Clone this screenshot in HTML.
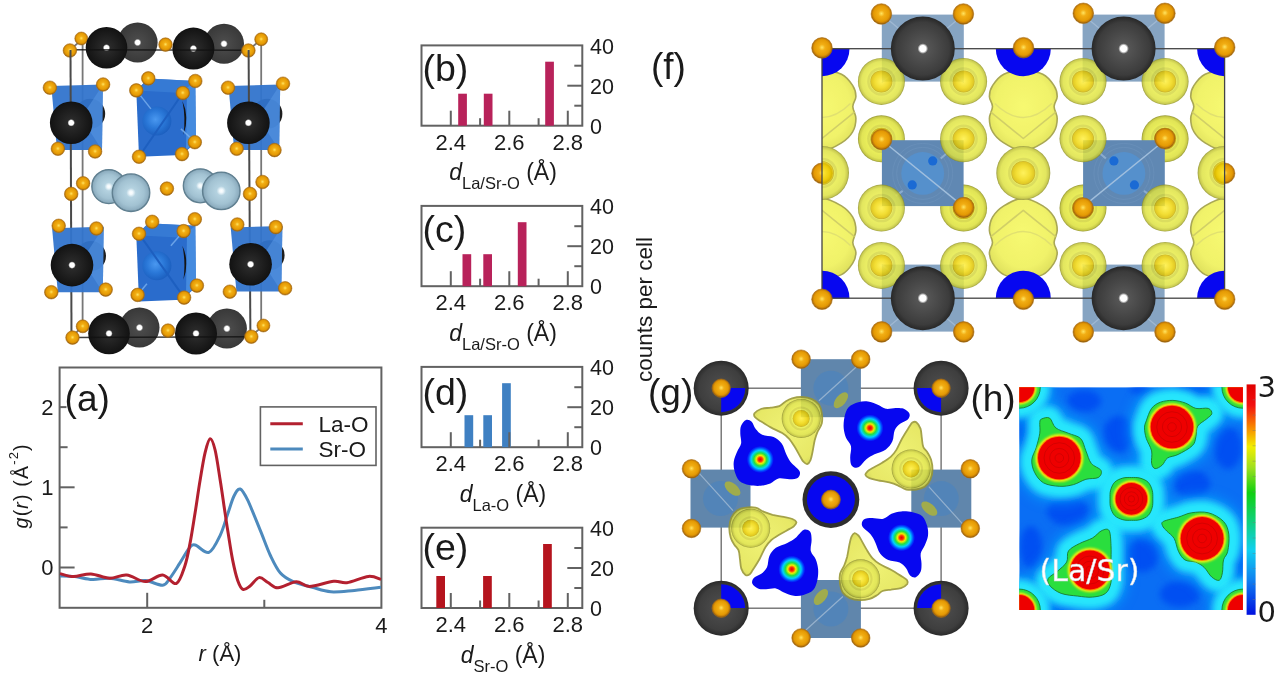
<!DOCTYPE html>
<html><head><meta charset="utf-8"><title>Figure</title>
<style>
html,body{margin:0;padding:0;background:#fff;width:1280px;height:677px;overflow:hidden}
svg{display:block}
text{font-family:"Liberation Sans",Arial,sans-serif;fill:#1a1a1a}
.dv{font-family:"DejaVu Sans","Liberation Sans",sans-serif}
</style></head><body>
<svg width="1280" height="677" viewBox="0 0 1280 677">
<defs>
<radialGradient id="gO" cx="0.5" cy="0.48" r="0.5"><stop offset="0" stop-color="#ffe460"/><stop offset="0.3" stop-color="#f2ae14"/><stop offset="0.75" stop-color="#e49a04"/><stop offset="0.9" stop-color="#c47c08"/><stop offset="1" stop-color="#8a5c10"/></radialGradient>
<radialGradient id="gK" cx="0.5" cy="0.5" r="0.55"><stop offset="0" stop-color="#fff"/><stop offset="0.1" stop-color="#fff"/><stop offset="0.16" stop-color="#2a2a2a"/><stop offset="0.85" stop-color="#141414"/><stop offset="1" stop-color="#0a0a0a"/></radialGradient>
<radialGradient id="gG" cx="0.5" cy="0.5" r="0.55"><stop offset="0" stop-color="#fff"/><stop offset="0.1" stop-color="#fff"/><stop offset="0.17" stop-color="#4a4a4a"/><stop offset="0.85" stop-color="#3a3a3a"/><stop offset="1" stop-color="#2c2c2c"/></radialGradient>
<radialGradient id="gS" cx="0.5" cy="0.5" r="0.5"><stop offset="0" stop-color="#ffffff"/><stop offset="0.1" stop-color="#f0f8fc"/><stop offset="0.25" stop-color="#b4d2e0"/><stop offset="0.7" stop-color="#a2c2d2"/><stop offset="0.92" stop-color="#8eaec0"/><stop offset="1" stop-color="#6a8898"/></radialGradient>
<radialGradient id="gB" cx="0.45" cy="0.45" r="0.6"><stop offset="0" stop-color="#4a98f0"/><stop offset="0.5" stop-color="#2a78d8"/><stop offset="1" stop-color="#1a5cbc"/></radialGradient>
<radialGradient id="gF" cx="0.5" cy="0.5" r="0.55"><stop offset="0" stop-color="#fff"/><stop offset="0.09" stop-color="#fff"/><stop offset="0.15" stop-color="#555"/><stop offset="0.75" stop-color="#3c3c3c"/><stop offset="0.95" stop-color="#222"/><stop offset="1" stop-color="#1a1a1a"/></radialGradient>
<radialGradient id="gY" cx="0.5" cy="0.5" r="0.5"><stop offset="0" stop-color="#fff040"/><stop offset="0.6" stop-color="#f0d810"/><stop offset="0.9" stop-color="#dcc000"/><stop offset="1" stop-color="#b8a010"/></radialGradient>
<radialGradient id="gYb" cx="0.5" cy="0.5" r="0.5"><stop offset="0" stop-color="#eef24e"/><stop offset="0.6" stop-color="#e8ec4a"/><stop offset="0.84" stop-color="#dee244"/><stop offset="0.94" stop-color="#c2c434"/><stop offset="1" stop-color="#8a8c22"/></radialGradient>
<radialGradient id="gR" cx="0.5" cy="0.5" r="0.5"><stop offset="0" stop-color="#e00000"/><stop offset="0.15" stop-color="#ff3000"/><stop offset="0.3" stop-color="#f0f000"/><stop offset="0.48" stop-color="#20e040"/><stop offset="0.68" stop-color="#00d0ff"/><stop offset="0.88" stop-color="#0040ff"/><stop offset="1" stop-color="#0707f0"/></radialGradient>
<linearGradient id="gCB" x1="0" y1="0" x2="0" y2="1"><stop offset="0" stop-color="#e00000"/><stop offset="0.09" stop-color="#f21010"/><stop offset="0.18" stop-color="#f88000"/><stop offset="0.27" stop-color="#f2ee00"/><stop offset="0.36" stop-color="#a0e020"/><stop offset="0.47" stop-color="#10d010"/><stop offset="0.6" stop-color="#10d080"/><stop offset="0.72" stop-color="#10d0f0"/><stop offset="0.85" stop-color="#1080f0"/><stop offset="1" stop-color="#0010e0"/></linearGradient>
<filter id="blur3" filterUnits="userSpaceOnUse" x="0" y="0" width="1280" height="677"><feGaussianBlur stdDeviation="3"/></filter>
<filter id="blur5" filterUnits="userSpaceOnUse" x="0" y="0" width="1280" height="677"><feGaussianBlur stdDeviation="5"/></filter>
<filter id="blur1" x="-20%" y="-20%" width="140%" height="140%"><feGaussianBlur stdDeviation="1"/></filter>
<filter id="blur7" filterUnits="userSpaceOnUse" x="0" y="0" width="1280" height="677"><feGaussianBlur stdDeviation="7"/></filter>
<clipPath id="cpF"><rect x="822" y="48.7" width="402.5" height="249.8"/></clipPath>
<clipPath id="cpG"><rect x="721.2" y="388.1" width="219.9" height="219.9"/></clipPath>
<clipPath id="cpH"><rect x="1019.3" y="387.2" width="223.6" height="222.9"/></clipPath>
</defs>

<g id="pa">
<rect x="59.6" y="367.5" width="321.8" height="240.3" fill="none" stroke="#626262" stroke-width="2"/>
<line x1="59.6" y1="567.5" x2="74.6" y2="567.5" stroke="#626262" stroke-width="2"/>
<line x1="59.6" y1="527.4" x2="67.6" y2="527.4" stroke="#626262" stroke-width="2"/>
<line x1="59.6" y1="487.3" x2="74.6" y2="487.3" stroke="#626262" stroke-width="2"/>
<line x1="59.6" y1="447.2" x2="67.6" y2="447.2" stroke="#626262" stroke-width="2"/>
<line x1="59.6" y1="407.1" x2="74.6" y2="407.1" stroke="#626262" stroke-width="2"/>
<line x1="147.2" y1="607.8" x2="147.2" y2="592.8" stroke="#626262" stroke-width="2"/>
<line x1="264.3" y1="607.8" x2="264.3" y2="599.8" stroke="#626262" stroke-width="2"/>
<path d="M60,575.9 C62.5,576 69.5,576 74.9,576.6 C80.3,577.2 86.4,579.2 92.2,579.5 C98,579.8 103.3,577.8 109.5,578.2 C115.7,578.6 123.4,581.5 129.4,581.9 C135.4,582.3 139.8,580 145.3,580.5 C150.8,581 158.5,585.6 162.6,585.2 C166.7,584.8 167.1,581.7 170,578 C172.9,574.3 176.8,567.8 180,562.9 C183.2,558 186.5,551.5 189,548.5 C191.5,545.5 191.8,544.4 195.1,545 C198.4,545.6 204.7,554 208.9,552.4 C213.1,550.8 217.1,541.7 220.2,535.3 C223.3,528.9 225.4,520.5 227.7,514 C230,507.4 231.9,500.2 234,496 C236.1,491.8 237.9,488.3 240.2,489 C242.5,489.7 244.3,493.3 247.7,500.2 C251,507.1 256.5,521.2 260.3,530.4 C264.1,539.6 267,548.4 270.4,555.5 C273.8,562.6 276.6,568.7 280.4,573.1 C284.2,577.5 287.9,579.3 293.2,581.7 C298.5,584.1 305.9,585.6 312.2,587.3 C318.5,589 323.9,591.3 330.9,591.8 C337.9,592.3 346,591.1 354.4,590.4 C362.8,589.6 376.6,587.8 381,587.3" fill="none" stroke="#4d8abd" stroke-width="3"/>
<path d="M60,573.6 C62.3,574.1 68.4,576.6 73.6,576.6 C78.8,576.6 84.9,573.6 90.9,573.9 C96.9,574.2 103.5,578 109.5,578.2 C115.5,578.4 120.7,574.4 126.7,575 C132.7,575.6 139.3,581.6 145.3,581.6 C151.3,581.6 157.4,574.7 162.6,575 C167.8,575.3 172.6,585.1 176.3,583.5 C180,581.9 182.7,572.2 185,565.4 C187.3,558.6 188.4,551.7 190.1,542.9 C191.8,534.1 193.4,523.2 195.1,512.8 C196.8,502.3 198.4,490.2 200.1,480.2 C201.8,470.2 203.4,459.5 205.1,452.6 C206.8,445.7 208.4,439.2 210.1,438.8 C211.8,438.4 213.4,443.1 215.1,450 C216.8,456.9 218.7,471 220.2,480.2 C221.7,489.4 222.7,496.9 223.9,505.2 C225.2,513.5 226.2,521.1 227.7,530.3 C229.2,539.5 231,552 232.7,560.4 C234.4,568.8 236,575.7 237.7,580.5 C239.4,585.3 240.9,588.5 243,589.4 C245.1,590.3 247.3,588 250,586 C252.7,584 256.1,578.2 259.1,577.6 C262.1,577 264.9,580.8 268,582.5 C271.1,584.2 273.3,587.9 278,587.8 C282.7,587.7 291,581.9 296.2,581.7 C301.4,581.5 303.1,586.5 309.4,586.4 C315.6,586.3 327.4,581.9 333.7,581.3 C339.9,580.7 341.1,583.5 346.9,582.7 C352.7,581.9 362.7,577 368.4,576.4 C374.1,575.8 378.9,578.9 381,579.4" fill="none" stroke="#b3202f" stroke-width="3"/>
<rect x="260.4" y="406.9" width="115.6" height="58.5" fill="#fff" stroke="#626262" stroke-width="1.6"/>
<line x1="270.3" y1="423.7" x2="302.8" y2="423.7" stroke="#b3202f" stroke-width="3"/>
<line x1="270.3" y1="448.9" x2="302.8" y2="448.9" stroke="#4d8abd" stroke-width="3"/>
<text x="318.5" y="431.7" font-size="22.5">La-O</text>
<text x="318.5" y="456.8" font-size="22.5">Sr-O</text>
<rect x="66.5" y="380" width="44" height="40" fill="#fff"/>
<text x="64.6" y="410.5" font-size="37">(a)</text>
<text x="53.5" y="575.3" font-size="22" text-anchor="end">0</text>
<text x="53.5" y="495.1" font-size="22" text-anchor="end">1</text>
<text x="53.5" y="414.9" font-size="22" text-anchor="end">2</text>
<text x="147.2" y="632.5" font-size="22" text-anchor="middle">2</text>
<text x="381.4" y="632.5" font-size="22" text-anchor="middle">4</text>
<text x="220" y="661" font-size="22" text-anchor="middle"><tspan font-style="italic">r</tspan> (Å)</text>
<text transform="translate(27.8,528.4) rotate(-90)" font-size="19.5" textLength="84" lengthAdjust="spacing"><tspan font-style="italic">g</tspan>(<tspan font-style="italic">r</tspan>) (Å<tspan font-size="13" dy="-10">-2</tspan><tspan dy="10">)</tspan></text>
</g>
<g id="pbars">
<rect x="421.5" y="45.4" width="160.8" height="80.3" fill="none" stroke="#626262" stroke-width="2"/>
<rect x="458.2" y="93.7" width="8.7" height="32" fill="#b8225a"/>
<rect x="483.8" y="93.7" width="8.7" height="32" fill="#b8225a"/>
<rect x="545.2" y="61.7" width="8.7" height="64" fill="#b8225a"/>
<line x1="450.8" y1="125.7" x2="450.8" y2="110.7" stroke="#626262" stroke-width="2"/>
<line x1="480.1" y1="125.7" x2="480.1" y2="118.2" stroke="#626262" stroke-width="2"/>
<line x1="509.3" y1="125.7" x2="509.3" y2="110.7" stroke="#626262" stroke-width="2"/>
<line x1="538.6" y1="125.7" x2="538.6" y2="118.2" stroke="#626262" stroke-width="2"/>
<line x1="567.8" y1="125.7" x2="567.8" y2="110.7" stroke="#626262" stroke-width="2"/>
<line x1="582.3" y1="105.7" x2="574.3" y2="105.7" stroke="#626262" stroke-width="2"/>
<line x1="582.3" y1="85.7" x2="567.3" y2="85.7" stroke="#626262" stroke-width="2"/>
<line x1="582.3" y1="65.7" x2="574.3" y2="65.7" stroke="#626262" stroke-width="2"/>
<text x="422.4" y="80.7" font-size="37.5">(b)</text>
<text x="590" y="133.7" font-size="21.5">0</text>
<text x="590" y="93.7" font-size="21.5">20</text>
<text x="590" y="53.7" font-size="21.5">40</text>
<text x="450.8" y="149.7" font-size="22" text-anchor="middle">2.4</text>
<text x="509.3" y="149.7" font-size="22" text-anchor="middle">2.6</text>
<text x="567.8" y="149.7" font-size="22" text-anchor="middle">2.8</text>
<text x="503" y="180.2" font-size="23" text-anchor="middle"><tspan font-style="italic">d</tspan><tspan font-size="16.5" dy="9">La/Sr-O</tspan><tspan dy="-9"> (Å)</tspan></text>
<rect x="421.5" y="205.9" width="160.8" height="80.3" fill="none" stroke="#626262" stroke-width="2"/>
<rect x="462.5" y="254.2" width="8.7" height="32" fill="#b8225a"/>
<rect x="483.3" y="254.2" width="8.7" height="32" fill="#b8225a"/>
<rect x="517.8" y="222.2" width="8.7" height="64" fill="#b8225a"/>
<line x1="450.8" y1="286.2" x2="450.8" y2="271.2" stroke="#626262" stroke-width="2"/>
<line x1="480.1" y1="286.2" x2="480.1" y2="278.7" stroke="#626262" stroke-width="2"/>
<line x1="509.3" y1="286.2" x2="509.3" y2="271.2" stroke="#626262" stroke-width="2"/>
<line x1="538.6" y1="286.2" x2="538.6" y2="278.7" stroke="#626262" stroke-width="2"/>
<line x1="567.8" y1="286.2" x2="567.8" y2="271.2" stroke="#626262" stroke-width="2"/>
<line x1="582.3" y1="266.2" x2="574.3" y2="266.2" stroke="#626262" stroke-width="2"/>
<line x1="582.3" y1="246.2" x2="567.3" y2="246.2" stroke="#626262" stroke-width="2"/>
<line x1="582.3" y1="226.2" x2="574.3" y2="226.2" stroke="#626262" stroke-width="2"/>
<text x="422.4" y="242.1" font-size="37.5">(c)</text>
<text x="590" y="294.2" font-size="21.5">0</text>
<text x="590" y="254.2" font-size="21.5">20</text>
<text x="590" y="214.2" font-size="21.5">40</text>
<text x="450.8" y="310.2" font-size="22" text-anchor="middle">2.4</text>
<text x="509.3" y="310.2" font-size="22" text-anchor="middle">2.6</text>
<text x="567.8" y="310.2" font-size="22" text-anchor="middle">2.8</text>
<text x="503" y="340.7" font-size="23" text-anchor="middle"><tspan font-style="italic">d</tspan><tspan font-size="16.5" dy="9">La/Sr-O</tspan><tspan dy="-9"> (Å)</tspan></text>
<rect x="421.5" y="366.9" width="160.8" height="80.3" fill="none" stroke="#626262" stroke-width="2"/>
<rect x="464.5" y="415.2" width="8.7" height="32" fill="#3f80c2"/>
<rect x="483.3" y="415.2" width="8.7" height="32" fill="#3f80c2"/>
<rect x="502.1" y="383.2" width="8.7" height="64" fill="#3f80c2"/>
<line x1="450.8" y1="447.2" x2="450.8" y2="432.2" stroke="#626262" stroke-width="2"/>
<line x1="480.1" y1="447.2" x2="480.1" y2="439.7" stroke="#626262" stroke-width="2"/>
<line x1="509.3" y1="447.2" x2="509.3" y2="432.2" stroke="#626262" stroke-width="2"/>
<line x1="538.6" y1="447.2" x2="538.6" y2="439.7" stroke="#626262" stroke-width="2"/>
<line x1="567.8" y1="447.2" x2="567.8" y2="432.2" stroke="#626262" stroke-width="2"/>
<line x1="582.3" y1="427.2" x2="574.3" y2="427.2" stroke="#626262" stroke-width="2"/>
<line x1="582.3" y1="407.2" x2="567.3" y2="407.2" stroke="#626262" stroke-width="2"/>
<line x1="582.3" y1="387.2" x2="574.3" y2="387.2" stroke="#626262" stroke-width="2"/>
<text x="422.4" y="404.5" font-size="37.5">(d)</text>
<text x="590" y="455.2" font-size="21.5">0</text>
<text x="590" y="415.2" font-size="21.5">20</text>
<text x="590" y="375.2" font-size="21.5">40</text>
<text x="450.8" y="471.2" font-size="22" text-anchor="middle">2.4</text>
<text x="509.3" y="471.2" font-size="22" text-anchor="middle">2.6</text>
<text x="567.8" y="471.2" font-size="22" text-anchor="middle">2.8</text>
<text x="503" y="501.7" font-size="23" text-anchor="middle"><tspan font-style="italic">d</tspan><tspan font-size="16.5" dy="9">La-O</tspan><tspan dy="-9"> (Å)</tspan></text>
<rect x="421.5" y="527.7" width="160.8" height="80.3" fill="none" stroke="#626262" stroke-width="2"/>
<rect x="436.3" y="576" width="8.7" height="32" fill="#b5141e"/>
<rect x="483.1" y="576" width="8.7" height="32" fill="#b5141e"/>
<rect x="543.1" y="544" width="8.7" height="64" fill="#b5141e"/>
<line x1="450.8" y1="608" x2="450.8" y2="593" stroke="#626262" stroke-width="2"/>
<line x1="480.1" y1="608" x2="480.1" y2="600.5" stroke="#626262" stroke-width="2"/>
<line x1="509.3" y1="608" x2="509.3" y2="593" stroke="#626262" stroke-width="2"/>
<line x1="538.6" y1="608" x2="538.6" y2="600.5" stroke="#626262" stroke-width="2"/>
<line x1="567.8" y1="608" x2="567.8" y2="593" stroke="#626262" stroke-width="2"/>
<line x1="582.3" y1="588" x2="574.3" y2="588" stroke="#626262" stroke-width="2"/>
<line x1="582.3" y1="568" x2="567.3" y2="568" stroke="#626262" stroke-width="2"/>
<line x1="582.3" y1="548" x2="574.3" y2="548" stroke="#626262" stroke-width="2"/>
<text x="422.4" y="560.4" font-size="37.5">(e)</text>
<text x="590" y="616" font-size="21.5">0</text>
<text x="590" y="576" font-size="21.5">20</text>
<text x="590" y="536" font-size="21.5">40</text>
<text x="450.8" y="632" font-size="22" text-anchor="middle">2.4</text>
<text x="509.3" y="632" font-size="22" text-anchor="middle">2.6</text>
<text x="567.8" y="632" font-size="22" text-anchor="middle">2.8</text>
<text x="503" y="662.5" font-size="23" text-anchor="middle"><tspan font-style="italic">d</tspan><tspan font-size="16.5" dy="9">Sr-O</tspan><tspan dy="-9"> (Å)</tspan></text>
</g>
<text transform="translate(652.3,309.5) rotate(-90)" font-size="22.5" text-anchor="middle">counts per cell</text>
<g id="crystal">
<line x1="82.6" y1="38.5" x2="82.6" y2="325.5" stroke="#777" stroke-width="1.8"/>
<line x1="261.2" y1="39" x2="261.2" y2="325.5" stroke="#777" stroke-width="1.8"/>
<line x1="70" y1="50" x2="82.6" y2="38.8" stroke="#777" stroke-width="1.8"/>
<line x1="248.4" y1="50.3" x2="261.2" y2="39.3" stroke="#777" stroke-width="1.8"/>
<line x1="72" y1="336.9" x2="83.1" y2="325.5" stroke="#777" stroke-width="1.8"/>
<line x1="250.6" y1="336.1" x2="263.9" y2="325.5" stroke="#777" stroke-width="1.8"/>
<circle cx="81.3" cy="38.5" r="6.5" fill="url(#gO)" stroke="#b07010" stroke-width="0.6"/>
<circle cx="261.2" cy="39.3" r="6.5" fill="url(#gO)" stroke="#b07010" stroke-width="0.6"/>
<circle cx="137.6" cy="42.5" r="20" fill="url(#gG)"/>
<circle cx="224" cy="43.8" r="20" fill="url(#gG)"/>
<circle cx="106.5" cy="47.8" r="20.8" fill="url(#gK)"/>
<circle cx="193.4" cy="48.6" r="21" fill="url(#gK)"/>
<line x1="70" y1="49.8" x2="249" y2="50.2" stroke="#111" stroke-width="1.6" opacity="0.8"/>
<circle cx="69.9" cy="50.5" r="6.8" fill="url(#gO)" stroke="#b07010" stroke-width="0.6"/>
<circle cx="165.5" cy="44.6" r="6.8" fill="url(#gO)" stroke="#b07010" stroke-width="0.6"/>
<circle cx="248.4" cy="50.5" r="6.8" fill="url(#gO)" stroke="#b07010" stroke-width="0.6"/>
<circle cx="90.2" cy="113.8" r="15" fill="#1e1e1e"/>
<polygon points="51.3,86 103,84.5 102,150 57,150" fill="#3274cc" fill-opacity="0.95"/>
<polygon points="103,84.5 102,150 81.2,117.8" fill="#5a9ae6" fill-opacity="0.5"/>
<circle cx="267.4" cy="113.8" r="15" fill="#1e1e1e"/>
<polygon points="228.5,86 280.2,84.5 279.2,150 234.2,150" fill="#3274cc" fill-opacity="0.95"/>
<polygon points="280.2,84.5 279.2,150 258.4,117.8" fill="#5a9ae6" fill-opacity="0.5"/>
<polygon points="136.3,90.4 148.3,78.4 195.3,81 196,142.2 182,155 139,156.8" fill="#2a6ccc"/>
<polygon points="136.3,90.4 148.3,78.4 195.3,81 182.8,93" fill="#3a7ed6" opacity="0.8"/>
<path d="M182.4,100.9 Q189.9,116.9 183.4,134.9 Q185.9,117.9 182.4,100.9 Z" fill="#141414"/>
<polygon points="187,88 195.3,81 196,142.2 186,150" fill="#4a90e2" opacity="0.85"/>
<circle cx="156.9" cy="120.9" r="14.5" fill="url(#gB)"/>
<line x1="139" y1="156.8" x2="182.8" y2="93" stroke="#1d5fc0" stroke-width="2" opacity="1"/>
<line x1="136.3" y1="90.4" x2="150.9" y2="108.9" stroke="#7ab0ee" stroke-width="1.5" opacity="0.8"/>
<line x1="194.9" y1="141.9" x2="180.9" y2="128.9" stroke="#7ab0ee" stroke-width="1.5" opacity="0.8"/>
<line x1="70.5" y1="50" x2="71.5" y2="337" stroke="#4a4a4a" stroke-width="2"/>
<line x1="248.6" y1="50" x2="250.4" y2="337" stroke="#4a4a4a" stroke-width="2"/>
<circle cx="71.2" cy="122.8" r="21.3" fill="url(#gK)"/>
<circle cx="248.4" cy="122.8" r="21.3" fill="url(#gK)"/>
<circle cx="49.9" cy="87.7" r="6.8" fill="url(#gO)" stroke="#b07010" stroke-width="0.6"/>
<circle cx="103.1" cy="84.5" r="6.8" fill="url(#gO)" stroke="#b07010" stroke-width="0.6"/>
<circle cx="57.9" cy="148.8" r="6.8" fill="url(#gO)" stroke="#b07010" stroke-width="0.6"/>
<circle cx="95.1" cy="151.5" r="6.8" fill="url(#gO)" stroke="#b07010" stroke-width="0.6"/>
<circle cx="148.3" cy="78.4" r="6.8" fill="url(#gO)" stroke="#b07010" stroke-width="0.6"/>
<circle cx="136.3" cy="90.4" r="6.8" fill="url(#gO)" stroke="#b07010" stroke-width="0.6"/>
<circle cx="182.8" cy="93" r="6.8" fill="url(#gO)" stroke="#b07010" stroke-width="0.6"/>
<circle cx="195.3" cy="81" r="6.8" fill="url(#gO)" stroke="#b07010" stroke-width="0.6"/>
<circle cx="139" cy="156.8" r="6.8" fill="url(#gO)" stroke="#b07010" stroke-width="0.6"/>
<circle cx="182" cy="154.1" r="6.8" fill="url(#gO)" stroke="#b07010" stroke-width="0.6"/>
<circle cx="194.8" cy="142.2" r="6.8" fill="url(#gO)" stroke="#b07010" stroke-width="0.6"/>
<circle cx="228" cy="87.7" r="6.8" fill="url(#gO)" stroke="#b07010" stroke-width="0.6"/>
<circle cx="283" cy="83.7" r="6.8" fill="url(#gO)" stroke="#b07010" stroke-width="0.6"/>
<circle cx="236.7" cy="148.8" r="6.8" fill="url(#gO)" stroke="#b07010" stroke-width="0.6"/>
<circle cx="274.5" cy="150.1" r="6.8" fill="url(#gO)" stroke="#b07010" stroke-width="0.6"/>
<circle cx="108.8" cy="186.6" r="17" fill="url(#gS)" stroke="#5f7f90" stroke-width="1.3"/>
<circle cx="131" cy="192.7" r="18.8" fill="url(#gS)" stroke="#5f7f90" stroke-width="1.3"/>
<circle cx="200.3" cy="185.8" r="17" fill="url(#gS)" stroke="#5f7f90" stroke-width="1.3"/>
<circle cx="221.3" cy="190.9" r="18.8" fill="url(#gS)" stroke="#5f7f90" stroke-width="1.3"/>
<circle cx="71.2" cy="193.9" r="6.8" fill="url(#gO)" stroke="#b07010" stroke-width="0.6"/>
<circle cx="83.1" cy="183.3" r="6.8" fill="url(#gO)" stroke="#b07010" stroke-width="0.6"/>
<circle cx="166.9" cy="188.6" r="6.8" fill="url(#gO)" stroke="#b07010" stroke-width="0.6"/>
<circle cx="250" cy="193.9" r="6.8" fill="url(#gO)" stroke="#b07010" stroke-width="0.6"/>
<circle cx="262.5" cy="182" r="6.8" fill="url(#gO)" stroke="#b07010" stroke-width="0.6"/>
<circle cx="91" cy="256.1" r="15" fill="#1e1e1e"/>
<polygon points="52.1,228.3 103.8,226.8 102.8,292.3 57.8,292.3" fill="#3274cc" fill-opacity="0.95"/>
<polygon points="103.8,226.8 102.8,292.3 82,260.1" fill="#5a9ae6" fill-opacity="0.5"/>
<circle cx="269.6" cy="255.3" r="15" fill="#1e1e1e"/>
<polygon points="230.7,227.5 282.4,226 281.4,291.5 236.4,291.5" fill="#3274cc" fill-opacity="0.95"/>
<polygon points="282.4,226 281.4,291.5 260.6,259.3" fill="#5a9ae6" fill-opacity="0.5"/>
<polygon points="136.3,235.2 148.3,223.2 195.3,225.8 196,287 182,299.8 139,301.6" fill="#2a6ccc"/>
<polygon points="136.3,235.2 148.3,223.2 195.3,225.8 182.8,237.8" fill="#3a7ed6" opacity="0.8"/>
<path d="M182.4,245.7 Q189.9,261.7 183.4,279.7 Q185.9,262.7 182.4,245.7 Z" fill="#141414"/>
<polygon points="187,232.8 195.3,225.8 196,287 186,294.8" fill="#4a90e2" opacity="0.85"/>
<circle cx="156.9" cy="265.7" r="14.5" fill="url(#gB)"/>
<line x1="139" y1="233.8" x2="184.1" y2="297.6" stroke="#1d5fc0" stroke-width="2" opacity="1"/>
<line x1="183.6" y1="231.1" x2="170.9" y2="245.7" stroke="#7ab0ee" stroke-width="1.5" opacity="0.8"/>
<line x1="137.6" y1="294.9" x2="146.9" y2="283.7" stroke="#7ab0ee" stroke-width="1.5" opacity="0.8"/>
<circle cx="72" cy="265.1" r="21.3" fill="url(#gK)"/>
<circle cx="250.6" cy="264.3" r="21.3" fill="url(#gK)"/>
<circle cx="58.7" cy="225.8" r="6.8" fill="url(#gO)" stroke="#b07010" stroke-width="0.6"/>
<circle cx="96.4" cy="228.5" r="6.8" fill="url(#gO)" stroke="#b07010" stroke-width="0.6"/>
<circle cx="51.3" cy="292.2" r="6.8" fill="url(#gO)" stroke="#b07010" stroke-width="0.6"/>
<circle cx="105.7" cy="289.6" r="6.8" fill="url(#gO)" stroke="#b07010" stroke-width="0.6"/>
<circle cx="152.2" cy="221.8" r="6.8" fill="url(#gO)" stroke="#b07010" stroke-width="0.6"/>
<circle cx="139" cy="233.8" r="6.8" fill="url(#gO)" stroke="#b07010" stroke-width="0.6"/>
<circle cx="183.6" cy="231.1" r="6.8" fill="url(#gO)" stroke="#b07010" stroke-width="0.6"/>
<circle cx="194.8" cy="219.2" r="6.8" fill="url(#gO)" stroke="#b07010" stroke-width="0.6"/>
<circle cx="137.6" cy="294.9" r="6.8" fill="url(#gO)" stroke="#b07010" stroke-width="0.6"/>
<circle cx="184.1" cy="297.6" r="6.8" fill="url(#gO)" stroke="#b07010" stroke-width="0.6"/>
<circle cx="196.9" cy="285.6" r="6.8" fill="url(#gO)" stroke="#b07010" stroke-width="0.6"/>
<circle cx="237.3" cy="224.5" r="6.8" fill="url(#gO)" stroke="#b07010" stroke-width="0.6"/>
<circle cx="275.8" cy="227.1" r="6.8" fill="url(#gO)" stroke="#b07010" stroke-width="0.6"/>
<circle cx="229.8" cy="291.7" r="6.8" fill="url(#gO)" stroke="#b07010" stroke-width="0.6"/>
<circle cx="285.1" cy="288.3" r="6.8" fill="url(#gO)" stroke="#b07010" stroke-width="0.6"/>
<circle cx="82.7" cy="326.3" r="6.5" fill="url(#gO)" stroke="#b07010" stroke-width="0.6"/>
<circle cx="263.4" cy="325.5" r="6.5" fill="url(#gO)" stroke="#b07010" stroke-width="0.6"/>
<circle cx="139.5" cy="327.6" r="20" fill="url(#gG)"/>
<circle cx="226.9" cy="328.6" r="20" fill="url(#gG)"/>
<circle cx="109" cy="333.5" r="20.8" fill="url(#gK)"/>
<circle cx="196" cy="333.5" r="21" fill="url(#gK)"/>
<line x1="72.5" y1="337.5" x2="251.3" y2="336.8" stroke="#111" stroke-width="1.6" opacity="0.8"/>
<circle cx="72.5" cy="337.6" r="6.8" fill="url(#gO)" stroke="#b07010" stroke-width="0.6"/>
<circle cx="168" cy="330.6" r="6.8" fill="url(#gO)" stroke="#b07010" stroke-width="0.6"/>
<circle cx="251.3" cy="336.7" r="6.8" fill="url(#gO)" stroke="#b07010" stroke-width="0.6"/>
</g>
<g id="pf">
<defs><radialGradient id="gYg" cx="0.5" cy="0.5" r="0.6"><stop offset="0" stop-color="#eef062"/><stop offset="0.8" stop-color="#e4e652"/><stop offset="1" stop-color="#d0d244"/></radialGradient><radialGradient id="gBB" cx="0.5" cy="0.45" r="0.6"><stop offset="0" stop-color="#f6f858"/><stop offset="0.7" stop-color="#eef050"/><stop offset="1" stop-color="#d8da40"/></radialGradient></defs>
<g clip-path="url(#cpF)" opacity="0.9">
<circle cx="881.4" cy="138.8" r="23.5" fill="url(#gYb)"/><circle cx="881.4" cy="138.8" r="13" fill="none" stroke="#c8ca40" stroke-width="2.5" opacity="0.6"/><circle cx="881.4" cy="138.8" r="11" fill="url(#gY)"/>
<circle cx="963.6" cy="208.1" r="23.5" fill="url(#gYb)"/><circle cx="963.6" cy="208.1" r="13" fill="none" stroke="#c8ca40" stroke-width="2.5" opacity="0.6"/><circle cx="963.6" cy="208.1" r="11" fill="url(#gY)"/>
<circle cx="1083" cy="208.1" r="23.5" fill="url(#gYb)"/><circle cx="1083" cy="208.1" r="13" fill="none" stroke="#c8ca40" stroke-width="2.5" opacity="0.6"/><circle cx="1083" cy="208.1" r="11" fill="url(#gY)"/>
<circle cx="1165.1" cy="138.8" r="23.5" fill="url(#gYb)"/><circle cx="1165.1" cy="138.8" r="13" fill="none" stroke="#c8ca40" stroke-width="2.5" opacity="0.6"/><circle cx="1165.1" cy="138.8" r="11" fill="url(#gY)"/>
</g>
<rect x="881.8" y="14.6" width="82" height="67" fill="#86a4c2"/>
<line x1="881.8" y1="14.4" x2="963.8" y2="82.4" stroke="#9fb8d2" stroke-width="1.3"/>
<line x1="963.8" y1="14.4" x2="881.8" y2="82.4" stroke="#9fb8d2" stroke-width="1.3"/>
<rect x="881.8" y="264.6" width="82" height="67" fill="#86a4c2"/>
<line x1="881.8" y1="264.4" x2="963.8" y2="332.4" stroke="#9fb8d2" stroke-width="1.3"/>
<line x1="963.8" y1="264.4" x2="881.8" y2="332.4" stroke="#9fb8d2" stroke-width="1.3"/>
<rect x="1082.6" y="14.6" width="82" height="67" fill="#86a4c2"/>
<line x1="1082.6" y1="14.4" x2="1164.6" y2="82.4" stroke="#9fb8d2" stroke-width="1.3"/>
<line x1="1164.6" y1="14.4" x2="1082.6" y2="82.4" stroke="#9fb8d2" stroke-width="1.3"/>
<rect x="1082.6" y="264.6" width="82" height="67" fill="#86a4c2"/>
<line x1="1082.6" y1="264.4" x2="1164.6" y2="332.4" stroke="#9fb8d2" stroke-width="1.3"/>
<line x1="1164.6" y1="264.4" x2="1082.6" y2="332.4" stroke="#9fb8d2" stroke-width="1.3"/>
<rect x="881.9" y="140.2" width="81.7" height="65.9" fill="#6088b3"/>
<circle cx="922.7" cy="173.4" r="30" fill="none" stroke="#7aa0c8" stroke-width="1" opacity="0.25"/>
<circle cx="922.7" cy="173.4" r="26" fill="none" stroke="#7aa0c8" stroke-width="1" opacity="0.3"/>
<circle cx="922.7" cy="173.4" r="21.4" fill="#5590cc"/>
<circle cx="932.7" cy="160.9" r="4.6" fill="#1a6ad4"/>
<circle cx="912.2" cy="184.9" r="4.6" fill="#1a6ad4"/>
<line x1="881.9" y1="140.2" x2="963.5" y2="206.6" stroke="#a8c4e0" stroke-width="1.4" opacity="0.9"/>
<line x1="947.7" y1="152.4" x2="940.7" y2="158.4" stroke="#a8c4e0" stroke-width="2" opacity="0.6"/>
<line x1="902.7" y1="190.9" x2="895.7" y2="195.9" stroke="#a8c4e0" stroke-width="2" opacity="0.6"/>
<rect x="1083.1" y="140.2" width="81.7" height="65.9" fill="#6088b3"/>
<circle cx="1123.9" cy="173.4" r="30" fill="none" stroke="#7aa0c8" stroke-width="1" opacity="0.25"/>
<circle cx="1123.9" cy="173.4" r="26" fill="none" stroke="#7aa0c8" stroke-width="1" opacity="0.3"/>
<circle cx="1123.9" cy="173.4" r="21.4" fill="#5590cc"/>
<circle cx="1113.9" cy="160.9" r="4.6" fill="#1a6ad4"/>
<circle cx="1134.4" cy="184.9" r="4.6" fill="#1a6ad4"/>
<line x1="1164.7" y1="140.2" x2="1083.1" y2="206.6" stroke="#a8c4e0" stroke-width="1.4" opacity="0.9"/>
<line x1="1098.9" y1="152.4" x2="1105.9" y2="158.4" stroke="#a8c4e0" stroke-width="2" opacity="0.6"/>
<line x1="1143.9" y1="190.9" x2="1150.9" y2="195.9" stroke="#a8c4e0" stroke-width="2" opacity="0.6"/>
<circle cx="822" cy="173.3" r="10.3" fill="url(#gO)" stroke="#b07010" stroke-width="0.6"/>
<circle cx="1224.6" cy="173.3" r="10.3" fill="url(#gO)" stroke="#b07010" stroke-width="0.6"/>
<g clip-path="url(#cpF)" opacity="0.85">
<circle cx="881.4" cy="81.4" r="23.5" fill="url(#gYb)"/><circle cx="881.4" cy="81.4" r="13" fill="none" stroke="#c8ca40" stroke-width="2.5" opacity="0.6"/><circle cx="881.4" cy="81.4" r="11" fill="url(#gY)"/>
<circle cx="881.4" cy="208.1" r="23.5" fill="url(#gYb)"/><circle cx="881.4" cy="208.1" r="13" fill="none" stroke="#c8ca40" stroke-width="2.5" opacity="0.6"/><circle cx="881.4" cy="208.1" r="11" fill="url(#gY)"/>
<circle cx="881.4" cy="265.4" r="23.5" fill="url(#gYb)"/><circle cx="881.4" cy="265.4" r="13" fill="none" stroke="#c8ca40" stroke-width="2.5" opacity="0.6"/><circle cx="881.4" cy="265.4" r="11" fill="url(#gY)"/>
<circle cx="963.6" cy="81.4" r="23.5" fill="url(#gYb)"/><circle cx="963.6" cy="81.4" r="13" fill="none" stroke="#c8ca40" stroke-width="2.5" opacity="0.6"/><circle cx="963.6" cy="81.4" r="11" fill="url(#gY)"/>
<circle cx="963.6" cy="138.8" r="23.5" fill="url(#gYb)"/><circle cx="963.6" cy="138.8" r="13" fill="none" stroke="#c8ca40" stroke-width="2.5" opacity="0.6"/><circle cx="963.6" cy="138.8" r="11" fill="url(#gY)"/>
<circle cx="963.6" cy="265.4" r="23.5" fill="url(#gYb)"/><circle cx="963.6" cy="265.4" r="13" fill="none" stroke="#c8ca40" stroke-width="2.5" opacity="0.6"/><circle cx="963.6" cy="265.4" r="11" fill="url(#gY)"/>
<circle cx="1083" cy="81.4" r="23.5" fill="url(#gYb)"/><circle cx="1083" cy="81.4" r="13" fill="none" stroke="#c8ca40" stroke-width="2.5" opacity="0.6"/><circle cx="1083" cy="81.4" r="11" fill="url(#gY)"/>
<circle cx="1083" cy="138.8" r="23.5" fill="url(#gYb)"/><circle cx="1083" cy="138.8" r="13" fill="none" stroke="#c8ca40" stroke-width="2.5" opacity="0.6"/><circle cx="1083" cy="138.8" r="11" fill="url(#gY)"/>
<circle cx="1083" cy="265.4" r="23.5" fill="url(#gYb)"/><circle cx="1083" cy="265.4" r="13" fill="none" stroke="#c8ca40" stroke-width="2.5" opacity="0.6"/><circle cx="1083" cy="265.4" r="11" fill="url(#gY)"/>
<circle cx="1165.1" cy="81.4" r="23.5" fill="url(#gYb)"/><circle cx="1165.1" cy="81.4" r="13" fill="none" stroke="#c8ca40" stroke-width="2.5" opacity="0.6"/><circle cx="1165.1" cy="81.4" r="11" fill="url(#gY)"/>
<circle cx="1165.1" cy="208.1" r="23.5" fill="url(#gYb)"/><circle cx="1165.1" cy="208.1" r="13" fill="none" stroke="#c8ca40" stroke-width="2.5" opacity="0.6"/><circle cx="1165.1" cy="208.1" r="11" fill="url(#gY)"/>
<circle cx="1165.1" cy="265.4" r="23.5" fill="url(#gYb)"/><circle cx="1165.1" cy="265.4" r="13" fill="none" stroke="#c8ca40" stroke-width="2.5" opacity="0.6"/><circle cx="1165.1" cy="265.4" r="11" fill="url(#gY)"/>
<path d="M822,70.9 C815.5,70.9 807.6,71.8 802.5,74.2 C797.4,76.7 793.8,81.7 791.4,85.4 C789,89.1 788.1,92.9 788.1,96.4 C788.1,99.9 791.2,102.8 791.2,106.4 C791.2,110.1 788.1,114.2 788.1,118.4 C788.1,122.7 789,127.9 791.4,131.9 C793.8,136 797.4,139.8 802.5,142.9 C807.6,146.1 815.5,150.6 822,150.6 C828.5,150.6 836.4,146.1 841.5,142.9 C846.6,139.8 850.2,136 852.6,131.9 C855,127.9 855.9,122.7 855.9,118.4 C855.9,114.2 852.8,110.1 852.8,106.4 C852.8,102.8 855.9,99.9 855.9,96.4 C855.9,92.9 855,89.1 852.6,85.4 C850.2,81.7 846.6,76.7 841.5,74.2 C836.4,71.8 828.5,70.9 822,70.9Z" fill="url(#gBB)" stroke="#9a9838" stroke-width="1.6"/><path d="M789.2,111.9 L822,138.5 L854.8,111.9" fill="none" stroke="#c4c24c" stroke-width="1.6" stroke-linejoin="round" opacity="0.9"/><path d="M793.5,103.4 Q822,131.4 850.5,103.4" fill="none" stroke="#d6d45a" stroke-width="1.4" opacity="0.8"/>
<path d="M822,277.9 C815.5,277.9 807.6,277.1 802.5,274.6 C797.4,272.2 793.8,267.1 791.4,263.4 C789,259.8 788.1,255.9 788.1,252.4 C788.1,248.9 791.2,246.1 791.2,242.4 C791.2,238.8 788.1,234.7 788.1,230.4 C788.1,226.2 789,221 791.4,216.9 C793.8,212.9 797.4,209.1 802.5,205.9 C807.6,202.8 815.5,198.2 822,198.2 C828.5,198.2 836.4,202.8 841.5,205.9 C846.6,209.1 850.2,212.9 852.6,216.9 C855,221 855.9,226.2 855.9,230.4 C855.9,234.7 852.8,238.8 852.8,242.4 C852.8,246.1 855.9,248.9 855.9,252.4 C855.9,255.9 855,259.8 852.6,263.4 C850.2,267.1 846.6,272.2 841.5,274.6 C836.4,277.1 828.5,277.9 822,277.9Z" fill="url(#gBB)" stroke="#9a9838" stroke-width="1.6"/><path d="M789.2,236.9 L822,210.3 L854.8,236.9" fill="none" stroke="#c4c24c" stroke-width="1.6" stroke-linejoin="round" opacity="0.9"/><path d="M793.5,245.4 Q822,217.4 850.5,245.4" fill="none" stroke="#d6d45a" stroke-width="1.4" opacity="0.8"/>
<circle cx="822" cy="172.9" r="27" fill="url(#gYb)"/><circle cx="822" cy="172.9" r="14" fill="none" stroke="#c8ca40" stroke-width="2.5" opacity="0.6"/><circle cx="822" cy="172.9" r="12" fill="url(#gY)"/>
<path d="M1023.3,70.9 C1016.8,70.9 1008.9,71.8 1003.8,74.2 C998.7,76.7 995.1,81.7 992.7,85.4 C990.3,89.1 989.4,92.9 989.4,96.4 C989.4,99.9 992.5,102.8 992.5,106.4 C992.5,110.1 989.4,114.2 989.4,118.4 C989.4,122.7 990.3,127.9 992.7,131.9 C995.1,136 998.7,139.8 1003.8,142.9 C1008.9,146.1 1016.8,150.6 1023.3,150.6 C1029.8,150.6 1037.7,146.1 1042.8,142.9 C1047.9,139.8 1051.5,136 1053.9,131.9 C1056.3,127.9 1057.2,122.7 1057.2,118.4 C1057.2,114.2 1054.1,110.1 1054.1,106.4 C1054.1,102.8 1057.2,99.9 1057.2,96.4 C1057.2,92.9 1056.3,89.1 1053.9,85.4 C1051.5,81.7 1047.9,76.7 1042.8,74.2 C1037.7,71.8 1029.8,70.9 1023.3,70.9Z" fill="url(#gBB)" stroke="#9a9838" stroke-width="1.6"/><path d="M990.5,111.9 L1023.3,138.5 L1056.1,111.9" fill="none" stroke="#c4c24c" stroke-width="1.6" stroke-linejoin="round" opacity="0.9"/><path d="M994.8,103.4 Q1023.3,131.4 1051.8,103.4" fill="none" stroke="#d6d45a" stroke-width="1.4" opacity="0.8"/>
<path d="M1023.3,277.9 C1016.8,277.9 1008.9,277.1 1003.8,274.6 C998.7,272.2 995.1,267.1 992.7,263.4 C990.3,259.8 989.4,255.9 989.4,252.4 C989.4,248.9 992.5,246.1 992.5,242.4 C992.5,238.8 989.4,234.7 989.4,230.4 C989.4,226.2 990.3,221 992.7,216.9 C995.1,212.9 998.7,209.1 1003.8,205.9 C1008.9,202.8 1016.8,198.2 1023.3,198.2 C1029.8,198.2 1037.7,202.8 1042.8,205.9 C1047.9,209.1 1051.5,212.9 1053.9,216.9 C1056.3,221 1057.2,226.2 1057.2,230.4 C1057.2,234.7 1054.1,238.8 1054.1,242.4 C1054.1,246.1 1057.2,248.9 1057.2,252.4 C1057.2,255.9 1056.3,259.8 1053.9,263.4 C1051.5,267.1 1047.9,272.2 1042.8,274.6 C1037.7,277.1 1029.8,277.9 1023.3,277.9Z" fill="url(#gBB)" stroke="#9a9838" stroke-width="1.6"/><path d="M990.5,236.9 L1023.3,210.3 L1056.1,236.9" fill="none" stroke="#c4c24c" stroke-width="1.6" stroke-linejoin="round" opacity="0.9"/><path d="M994.8,245.4 Q1023.3,217.4 1051.8,245.4" fill="none" stroke="#d6d45a" stroke-width="1.4" opacity="0.8"/>
<circle cx="1023.3" cy="172.9" r="27" fill="url(#gYb)"/><circle cx="1023.3" cy="172.9" r="14" fill="none" stroke="#c8ca40" stroke-width="2.5" opacity="0.6"/><circle cx="1023.3" cy="172.9" r="12" fill="url(#gY)"/>
<path d="M1224.6,70.9 C1218.1,70.9 1210.2,71.8 1205.1,74.2 C1200,76.7 1196.4,81.7 1194,85.4 C1191.6,89.1 1190.7,92.9 1190.7,96.4 C1190.7,99.9 1193.8,102.8 1193.8,106.4 C1193.8,110.1 1190.7,114.2 1190.7,118.4 C1190.7,122.7 1191.6,127.9 1194,131.9 C1196.4,136 1200,139.8 1205.1,142.9 C1210.2,146.1 1218.1,150.6 1224.6,150.6 C1231.1,150.6 1239,146.1 1244.1,142.9 C1249.2,139.8 1252.8,136 1255.2,131.9 C1257.6,127.9 1258.5,122.7 1258.5,118.4 C1258.5,114.2 1255.4,110.1 1255.4,106.4 C1255.4,102.8 1258.5,99.9 1258.5,96.4 C1258.5,92.9 1257.6,89.1 1255.2,85.4 C1252.8,81.7 1249.2,76.7 1244.1,74.2 C1239,71.8 1231.1,70.9 1224.6,70.9Z" fill="url(#gBB)" stroke="#9a9838" stroke-width="1.6"/><path d="M1191.8,111.9 L1224.6,138.5 L1257.4,111.9" fill="none" stroke="#c4c24c" stroke-width="1.6" stroke-linejoin="round" opacity="0.9"/><path d="M1196.1,103.4 Q1224.6,131.4 1253.1,103.4" fill="none" stroke="#d6d45a" stroke-width="1.4" opacity="0.8"/>
<path d="M1224.6,277.9 C1218.1,277.9 1210.2,277.1 1205.1,274.6 C1200,272.2 1196.4,267.1 1194,263.4 C1191.6,259.8 1190.7,255.9 1190.7,252.4 C1190.7,248.9 1193.8,246.1 1193.8,242.4 C1193.8,238.8 1190.7,234.7 1190.7,230.4 C1190.7,226.2 1191.6,221 1194,216.9 C1196.4,212.9 1200,209.1 1205.1,205.9 C1210.2,202.8 1218.1,198.2 1224.6,198.2 C1231.1,198.2 1239,202.8 1244.1,205.9 C1249.2,209.1 1252.8,212.9 1255.2,216.9 C1257.6,221 1258.5,226.2 1258.5,230.4 C1258.5,234.7 1255.4,238.8 1255.4,242.4 C1255.4,246.1 1258.5,248.9 1258.5,252.4 C1258.5,255.9 1257.6,259.8 1255.2,263.4 C1252.8,267.1 1249.2,272.2 1244.1,274.6 C1239,277.1 1231.1,277.9 1224.6,277.9Z" fill="url(#gBB)" stroke="#9a9838" stroke-width="1.6"/><path d="M1191.8,236.9 L1224.6,210.3 L1257.4,236.9" fill="none" stroke="#c4c24c" stroke-width="1.6" stroke-linejoin="round" opacity="0.9"/><path d="M1196.1,245.4 Q1224.6,217.4 1253.1,245.4" fill="none" stroke="#d6d45a" stroke-width="1.4" opacity="0.8"/>
<circle cx="1224.6" cy="172.9" r="27" fill="url(#gYb)"/><circle cx="1224.6" cy="172.9" r="14" fill="none" stroke="#c8ca40" stroke-width="2.5" opacity="0.6"/><circle cx="1224.6" cy="172.9" r="12" fill="url(#gY)"/>
</g>
<g clip-path="url(#cpF)">
<circle cx="822" cy="48.7" r="27.5" fill="#0707f0"/>
<circle cx="822" cy="298.2" r="27.5" fill="#0707f0"/>
<circle cx="1023.3" cy="48.7" r="27.5" fill="#0707f0"/>
<circle cx="1023.3" cy="298.2" r="27.5" fill="#0707f0"/>
<circle cx="1224.6" cy="48.7" r="27.5" fill="#0707f0"/>
<circle cx="1224.6" cy="298.2" r="27.5" fill="#0707f0"/>
</g>
<rect x="822" y="48.7" width="402.6" height="249.5" fill="none" stroke="#444" stroke-width="1.3"/>
<circle cx="922.8" cy="48.6" r="32" fill="url(#gF)"/>
<circle cx="922.8" cy="298.2" r="32" fill="url(#gF)"/>
<circle cx="1123.6" cy="48.6" r="32" fill="url(#gF)"/>
<circle cx="1123.6" cy="298.2" r="32" fill="url(#gF)"/>
<circle cx="881.4" cy="14" r="10.3" fill="url(#gO)" stroke="#b07010" stroke-width="0.6"/>
<circle cx="963.4" cy="14" r="10.3" fill="url(#gO)" stroke="#b07010" stroke-width="0.6"/>
<circle cx="1083.3" cy="13.3" r="10.3" fill="url(#gO)" stroke="#b07010" stroke-width="0.6"/>
<circle cx="1164.9" cy="13.3" r="10.3" fill="url(#gO)" stroke="#b07010" stroke-width="0.6"/>
<circle cx="822" cy="47.9" r="10.3" fill="url(#gO)" stroke="#b07010" stroke-width="0.6"/>
<circle cx="1023.5" cy="47.7" r="10.3" fill="url(#gO)" stroke="#b07010" stroke-width="0.6"/>
<circle cx="1224.7" cy="47.3" r="10.3" fill="url(#gO)" stroke="#b07010" stroke-width="0.6"/>
<circle cx="881.6" cy="139.5" r="10.3" fill="url(#gO)" stroke="#b07010" stroke-width="0.6"/>
<circle cx="963.6" cy="207.5" r="10.3" fill="url(#gO)" stroke="#b07010" stroke-width="0.6"/>
<circle cx="1164.9" cy="138.6" r="10.3" fill="url(#gO)" stroke="#b07010" stroke-width="0.6"/>
<circle cx="1083" cy="208" r="10.3" fill="url(#gO)" stroke="#b07010" stroke-width="0.6"/>
<circle cx="822" cy="299.3" r="10.3" fill="url(#gO)" stroke="#b07010" stroke-width="0.6"/>
<circle cx="1023.4" cy="299.3" r="10.3" fill="url(#gO)" stroke="#b07010" stroke-width="0.6"/>
<circle cx="1224.7" cy="299.3" r="10.3" fill="url(#gO)" stroke="#b07010" stroke-width="0.6"/>
<circle cx="881.6" cy="331.9" r="10.3" fill="url(#gO)" stroke="#b07010" stroke-width="0.6"/>
<circle cx="963.7" cy="331.9" r="10.3" fill="url(#gO)" stroke="#b07010" stroke-width="0.6"/>
<circle cx="1083.3" cy="332" r="10.3" fill="url(#gO)" stroke="#b07010" stroke-width="0.6"/>
<circle cx="1165" cy="332" r="10.3" fill="url(#gO)" stroke="#b07010" stroke-width="0.6"/>
<text x="651" y="79" font-size="37">(f)</text>
</g>
<g id="pg">
<rect x="721.2" y="388.2" width="219.9" height="220" fill="none" stroke="#666" stroke-width="1.3"/>
<rect x="800.9" y="359.2" width="60" height="58" fill="#6086ac"/>
<circle cx="830.9" cy="388.2" r="17.5" fill="#4a84c0" opacity="0.6"/>
<ellipse cx="840.9" cy="400.2" rx="9.5" ry="5" transform="rotate(-50 840.9 400.2)" fill="#a8b040" opacity="0.9"/>
<line x1="818.9" y1="400.7" x2="855.9" y2="367.2" stroke="#a4bcd4" stroke-width="1.2" opacity="0.8"/>
<rect x="911.3" y="469.6" width="60" height="58" fill="#6086ac"/>
<circle cx="941.3" cy="498.6" r="17.5" fill="#4a84c0" opacity="0.6"/>
<ellipse cx="929.3" cy="508.6" rx="9.5" ry="5" transform="rotate(40 929.3 508.6)" fill="#a8b040" opacity="0.9"/>
<line x1="928.8" y1="486.6" x2="962.3" y2="523.6" stroke="#a4bcd4" stroke-width="1.2" opacity="0.8"/>
<rect x="800.9" y="580" width="60" height="58" fill="#6086ac"/>
<circle cx="830.9" cy="609" r="17.5" fill="#4a84c0" opacity="0.6"/>
<ellipse cx="820.9" cy="597" rx="9.5" ry="5" transform="rotate(-50 820.9 597)" fill="#a8b040" opacity="0.9"/>
<line x1="842.9" y1="596.5" x2="805.9" y2="630" stroke="#a4bcd4" stroke-width="1.2" opacity="0.8"/>
<rect x="690.5" y="469.6" width="60" height="58" fill="#6086ac"/>
<circle cx="720.5" cy="498.6" r="17.5" fill="#4a84c0" opacity="0.6"/>
<ellipse cx="732.5" cy="488.6" rx="9.5" ry="5" transform="rotate(40 732.5 488.6)" fill="#a8b040" opacity="0.9"/>
<line x1="733" y1="510.6" x2="699.5" y2="473.6" stroke="#a4bcd4" stroke-width="1.2" opacity="0.8"/>
<g opacity="0.88">
<path d="M754.5,413.2 C755.5,411.9 758.2,409.9 760.9,409 C763.6,408.1 767.7,408.1 770.8,407.6 C773.8,407.2 776.9,407.2 779.3,406.2 C781.7,405.2 782.8,403.2 785,401.9 C787.1,400.6 789.2,399.2 792.1,398.4 C794.9,397.6 798.7,396.9 802,397 C805.3,397.1 809.1,397.8 812,399.1 C814.8,400.4 817.4,402.4 819.1,404.8 C820.7,407.1 821.4,410.2 821.8,413.3 C822.3,416.4 822.5,420.1 821.8,423.2 C821.1,426.3 818.8,428.9 817.6,431.7 C816.4,434.6 815.6,436.9 814.7,440.2 C813.9,443.5 813.3,448.2 812.6,451.5 C811.9,454.8 811.4,458 810.5,460.1 C809.6,462.2 808.4,463.8 807.2,464.1 C806.1,464.4 804.5,462.8 803.4,461.7 C802.3,460.6 802,459.7 800.6,457.3 C799.2,454.9 796.9,450.4 795,447.3 C793.1,444.2 791.3,441.2 789.2,438.8 C787.1,436.5 785.3,435 782.2,433.1 C779.1,431.2 774.6,429.5 770.8,427.4 C767,425.3 762.1,422.1 759.4,420.4 C756.8,418.7 755.7,418.3 754.9,417.1 C754.1,415.9 753.6,414.6 754.5,413.2Z" fill="url(#gYg)" stroke="#989630" stroke-width="1.8" stroke-linejoin="round"/>
<circle cx="801.2" cy="418.4" r="19.5" fill="url(#gYb)"/>
<circle cx="801.2" cy="418.4" r="11" fill="none" stroke="#c8c63c" stroke-width="2" opacity="0.6"/>
<circle cx="801.2" cy="418.4" r="8.5" fill="url(#gY)"/>
<path d="M916.3,422.2 C917.6,423.2 919.6,425.9 920.5,428.6 C921.4,431.3 921.4,435.4 921.9,438.5 C922.3,441.5 922.3,444.6 923.3,447 C924.3,449.4 926.3,450.5 927.6,452.7 C928.9,454.8 930.3,456.9 931.1,459.8 C931.9,462.6 932.6,466.4 932.5,469.7 C932.4,473 931.7,476.8 930.4,479.7 C929.1,482.5 927.1,485.1 924.7,486.8 C922.4,488.4 919.3,489.1 916.2,489.5 C913.1,490 909.4,490.2 906.3,489.5 C903.2,488.8 900.6,486.5 897.8,485.3 C894.9,484.1 892.6,483.3 889.3,482.4 C886,481.6 881.3,481 878,480.3 C874.7,479.6 871.5,479.1 869.4,478.2 C867.3,477.3 865.7,476.1 865.4,474.9 C865.1,473.8 866.7,472.2 867.8,471.1 C868.9,470 869.8,469.7 872.2,468.3 C874.6,466.9 879.1,464.6 882.2,462.7 C885.3,460.8 888.3,459 890.7,456.9 C893,454.8 894.5,453 896.4,449.9 C898.3,446.8 900,442.3 902.1,438.5 C904.2,434.7 907.4,429.8 909.1,427.1 C910.8,424.5 911.2,423.4 912.4,422.6 C913.6,421.8 914.9,421.3 916.3,422.2Z" fill="url(#gYg)" stroke="#989630" stroke-width="1.8" stroke-linejoin="round"/>
<circle cx="911.1" cy="468.9" r="19.5" fill="url(#gYb)"/>
<circle cx="911.1" cy="468.9" r="11" fill="none" stroke="#c8c63c" stroke-width="2" opacity="0.6"/>
<circle cx="911.1" cy="468.9" r="8.5" fill="url(#gY)"/>
<path d="M907.3,584 C906.3,585.3 903.6,587.3 900.9,588.2 C898.2,589.1 894.1,589.1 891,589.6 C888,590 884.9,590 882.5,591 C880.1,592 879,594 876.8,595.3 C874.7,596.6 872.6,598 869.7,598.8 C866.9,599.6 863.1,600.3 859.8,600.2 C856.5,600.1 852.7,599.4 849.8,598.1 C847,596.8 844.4,594.8 842.7,592.4 C841.1,590.1 840.4,587 840,583.9 C839.5,580.8 839.3,577.1 840,574 C840.7,570.9 843,568.3 844.2,565.5 C845.4,562.6 846.2,560.3 847.1,557 C847.9,553.7 848.5,549 849.2,545.7 C849.9,542.4 850.4,539.2 851.3,537.1 C852.2,535 853.4,533.4 854.6,533.1 C855.7,532.8 857.3,534.4 858.4,535.5 C859.5,536.6 859.8,537.5 861.2,539.9 C862.6,542.3 864.9,546.8 866.8,549.9 C868.7,553 870.5,556 872.6,558.4 C874.7,560.7 876.5,562.2 879.6,564.1 C882.7,566 887.2,567.7 891,569.8 C894.8,571.9 899.7,575.1 902.4,576.8 C905,578.5 906.1,578.9 906.9,580.1 C907.7,581.3 908.2,582.6 907.3,584Z" fill="url(#gYg)" stroke="#989630" stroke-width="1.8" stroke-linejoin="round"/>
<circle cx="860.6" cy="578.8" r="19.5" fill="url(#gYb)"/>
<circle cx="860.6" cy="578.8" r="11" fill="none" stroke="#c8c63c" stroke-width="2" opacity="0.6"/>
<circle cx="860.6" cy="578.8" r="8.5" fill="url(#gY)"/>
<path d="M745.5,575 C744.2,574 742.2,571.3 741.3,568.6 C740.4,565.9 740.4,561.8 739.9,558.7 C739.5,555.7 739.5,552.6 738.5,550.2 C737.5,547.8 735.5,546.7 734.2,544.5 C732.9,542.4 731.5,540.3 730.7,537.4 C729.9,534.6 729.2,530.8 729.3,527.5 C729.4,524.2 730.1,520.4 731.4,517.5 C732.7,514.7 734.7,512.1 737.1,510.4 C739.4,508.8 742.5,508.1 745.6,507.7 C748.7,507.2 752.4,507 755.5,507.7 C758.6,508.4 761.2,510.7 764,511.9 C766.9,513.1 769.2,513.9 772.5,514.8 C775.8,515.6 780.5,516.2 783.8,516.9 C787.1,517.6 790.3,518.1 792.4,519 C794.5,519.9 796.1,521.1 796.4,522.3 C796.7,523.4 795.1,525 794,526.1 C792.9,527.2 792,527.5 789.6,528.9 C787.2,530.3 782.7,532.6 779.6,534.5 C776.5,536.4 773.5,538.2 771.1,540.3 C768.8,542.4 767.3,544.2 765.4,547.3 C763.5,550.4 761.8,554.9 759.7,558.7 C757.6,562.5 754.4,567.4 752.7,570.1 C751,572.7 750.6,573.8 749.4,574.6 C748.2,575.4 746.9,575.9 745.5,575Z" fill="url(#gYg)" stroke="#989630" stroke-width="1.8" stroke-linejoin="round"/>
<circle cx="750.7" cy="528.3" r="19.5" fill="url(#gYb)"/>
<circle cx="750.7" cy="528.3" r="11" fill="none" stroke="#c8c63c" stroke-width="2" opacity="0.6"/>
<circle cx="750.7" cy="528.3" r="8.5" fill="url(#gY)"/>
</g>
<path d="M741.1,425.7 C742.1,423.4 744.2,420.7 746,420 C747.8,419.3 750.1,420.2 751.7,421.7 C753.3,423.2 754,426.8 755.7,429 C757.5,431.2 759.2,433.3 762.2,434.7 C765.2,436.1 770.4,435.6 773.6,437.1 C776.9,438.6 779.5,440.6 781.7,443.6 C783.9,446.6 785,451.8 786.6,455 C788.2,458.2 789.3,460.4 791.5,463.1 C793.7,465.8 798.5,468.8 799.6,471.2 C800.7,473.6 799.6,476.3 798,477.7 C796.4,479.1 793,479.2 789.8,479.3 C786.5,479.4 781.8,477.8 778.5,478.5 C775.2,479.2 773.3,482.2 770.3,483.4 C767.3,484.6 764.1,485.5 760.6,485.8 C757.1,486.1 752.7,485.8 749.2,485 C745.7,484.2 741.9,483.2 739.5,480.9 C737.1,478.6 735.6,474.4 734.6,471.2 C733.6,468 733.4,464.8 733.8,461.5 C734.2,458.2 735.9,454.7 737.1,451.7 C738.3,448.7 740.6,446.6 741.1,443.6 C741.6,440.6 740.3,436.8 740.3,433.8 C740.3,430.8 740.1,428 741.1,425.7Z" fill="#0707f0"/>
<circle cx="760.3" cy="459.5" r="13.5" fill="url(#gR)"/>
<path d="M903.8,408.8 C906.1,409.8 908.8,411.9 909.5,413.7 C910.2,415.5 909.3,417.8 907.8,419.4 C906.3,421 902.7,421.7 900.5,423.4 C898.3,425.2 896.1,426.9 894.8,429.9 C893.4,432.9 893.9,438.1 892.4,441.3 C890.9,444.6 888.9,447.2 885.9,449.4 C882.9,451.6 877.8,452.7 874.5,454.3 C871.2,455.9 869.1,457 866.4,459.2 C863.7,461.4 860.7,466.2 858.3,467.3 C855.9,468.4 853.1,467.3 851.8,465.7 C850.4,464.1 850.3,460.8 850.2,457.5 C850.1,454.2 851.7,449.5 851,446.2 C850.3,443 847.3,441 846.1,438 C844.9,435 844,431.8 843.7,428.3 C843.4,424.8 843.7,420.4 844.5,416.9 C845.3,413.4 846.3,409.6 848.6,407.2 C850.9,404.8 855.1,403.3 858.3,402.3 C861.5,401.4 864.8,401.1 868,401.5 C871.2,401.9 874.8,403.6 877.8,404.8 C880.8,406 882.9,408.3 885.9,408.8 C888.9,409.3 892.7,408 895.7,408 C898.7,408 901.5,407.9 903.8,408.8Z" fill="#0707f0"/>
<circle cx="870" cy="428" r="13.5" fill="url(#gR)"/>
<path d="M920.7,571.5 C919.7,573.8 917.6,576.5 915.8,577.2 C914,577.9 911.7,577 910.1,575.5 C908.5,574 907.8,570.4 906.1,568.2 C904.3,566 902.6,563.9 899.6,562.5 C896.6,561.1 891.4,561.6 888.2,560.1 C884.9,558.6 882.3,556.6 880.1,553.6 C877.9,550.6 876.8,545.5 875.2,542.2 C873.6,539 872.5,536.8 870.3,534.1 C868.1,531.4 863.3,528.4 862.2,526 C861.1,523.6 862.2,520.9 863.8,519.5 C865.4,518.1 868.8,518 872,517.9 C875.2,517.8 880,519.4 883.3,518.7 C886.5,518 888.5,515 891.5,513.8 C894.5,512.6 897.7,511.7 901.2,511.4 C904.7,511.1 909.1,511.4 912.6,512.2 C916.1,513 919.9,514 922.3,516.3 C924.7,518.6 926.2,522.8 927.2,526 C928.1,529.2 928.4,532.5 928,535.7 C927.6,539 925.9,542.5 924.7,545.5 C923.5,548.5 921.2,550.6 920.7,553.6 C920.2,556.6 921.5,560.4 921.5,563.4 C921.5,566.4 921.6,569.2 920.7,571.5Z" fill="#0707f0"/>
<circle cx="901.5" cy="537.7" r="13.5" fill="url(#gR)"/>
<path d="M758,588.4 C755.7,587.4 753,585.3 752.3,583.5 C751.6,581.7 752.5,579.4 754,577.8 C755.5,576.2 759.1,575.5 761.3,573.8 C763.5,572 765.6,570.3 767,567.3 C768.4,564.3 767.9,559.1 769.4,555.9 C770.9,552.6 772.9,550 775.9,547.8 C778.9,545.6 784,544.5 787.3,542.9 C790.5,541.3 792.7,540.2 795.4,538 C798.1,535.8 801.1,531 803.5,529.9 C805.9,528.8 808.6,529.9 810,531.5 C811.4,533.1 811.5,536.5 811.6,539.7 C811.7,543 810.1,547.8 810.8,551 C811.5,554.2 814.5,556.2 815.7,559.2 C816.9,562.2 817.8,565.4 818.1,568.9 C818.4,572.4 818.1,576.8 817.3,580.3 C816.5,583.8 815.5,587.6 813.2,590 C810.9,592.4 806.7,593.9 803.5,594.9 C800.3,595.9 797,596.1 793.8,595.7 C790.5,595.3 787,593.6 784,592.4 C781,591.2 778.9,588.9 775.9,588.4 C772.9,587.9 769.1,589.2 766.1,589.2 C763.1,589.2 760.3,589.4 758,588.4Z" fill="#0707f0"/>
<circle cx="791.8" cy="569.2" r="13.5" fill="url(#gR)"/>
<g>
<circle cx="721.2" cy="388.2" r="27.5" fill="url(#gGs)"/>
<circle cx="941.1" cy="388.2" r="27.5" fill="url(#gGs)"/>
<circle cx="721.2" cy="608.2" r="27.5" fill="url(#gGs)"/>
<circle cx="941.1" cy="608.2" r="27.5" fill="url(#gGs)"/>
</g>
<defs><radialGradient id="gGs" cx="0.5" cy="0.5" r="0.5"><stop offset="0" stop-color="#505050"/><stop offset="0.8" stop-color="#3e3e3e"/><stop offset="1" stop-color="#2a2a2a"/></radialGradient></defs>
<g clip-path="url(#cpG)">
<circle cx="721.2" cy="388.2" r="24" fill="#0707f0"/>
<circle cx="941.1" cy="388.2" r="24" fill="#0707f0"/>
<circle cx="721.2" cy="608.2" r="24" fill="#0707f0"/>
<circle cx="941.1" cy="608.2" r="24" fill="#0707f0"/>
</g>
<circle cx="721.2" cy="388.2" r="9.2" fill="url(#gO)" stroke="#b07010" stroke-width="0.6"/>
<circle cx="941.1" cy="388.2" r="9.2" fill="url(#gO)" stroke="#b07010" stroke-width="0.6"/>
<circle cx="721.2" cy="608.2" r="9.2" fill="url(#gO)" stroke="#b07010" stroke-width="0.6"/>
<circle cx="941.1" cy="608.2" r="9.2" fill="url(#gO)" stroke="#b07010" stroke-width="0.6"/>
<circle cx="830.9" cy="499.6" r="28.4" fill="#2e2e2e"/>
<circle cx="830.9" cy="499.6" r="24" fill="#0707f0"/>
<circle cx="830.9" cy="499.6" r="9.5" fill="url(#gO)" stroke="#b07010" stroke-width="0.6"/>
<circle cx="801.1" cy="359.2" r="9.3" fill="url(#gO)" stroke="#b07010" stroke-width="0.6"/>
<circle cx="860.7" cy="359.2" r="9.3" fill="url(#gO)" stroke="#b07010" stroke-width="0.6"/>
<circle cx="970.3" cy="468.8" r="9.3" fill="url(#gO)" stroke="#b07010" stroke-width="0.6"/>
<circle cx="970.3" cy="528.4" r="9.3" fill="url(#gO)" stroke="#b07010" stroke-width="0.6"/>
<circle cx="860.7" cy="638" r="9.3" fill="url(#gO)" stroke="#b07010" stroke-width="0.6"/>
<circle cx="801.1" cy="638" r="9.3" fill="url(#gO)" stroke="#b07010" stroke-width="0.6"/>
<circle cx="691.5" cy="528.4" r="9.3" fill="url(#gO)" stroke="#b07010" stroke-width="0.6"/>
<circle cx="691.5" cy="468.8" r="9.3" fill="url(#gO)" stroke="#b07010" stroke-width="0.6"/>
<text x="648" y="404.5" font-size="37">(g)</text>
</g>
<g id="ph">
<g clip-path="url(#cpH)">
<rect x="1019.3" y="387.2" width="223.6" height="222.9" fill="#0a6ef4"/>
<ellipse cx="1084" cy="401" rx="17" ry="11" fill="#0250f2" filter="url(#blur3)"/>
<ellipse cx="1119" cy="434" rx="16" ry="18" fill="#0250f2" filter="url(#blur3)"/>
<ellipse cx="1228" cy="448" rx="14" ry="21" fill="#0250f2" filter="url(#blur3)"/>
<ellipse cx="1192" cy="484" rx="18" ry="14" fill="#0250f2" filter="url(#blur3)"/>
<ellipse cx="1068" cy="511" rx="21" ry="15" fill="#0250f2" filter="url(#blur3)"/>
<ellipse cx="1031" cy="547" rx="11" ry="21" fill="#0250f2" filter="url(#blur3)"/>
<ellipse cx="1142" cy="555" rx="17" ry="17" fill="#0250f2" filter="url(#blur3)"/>
<ellipse cx="1180" cy="594" rx="20" ry="13" fill="#0250f2" filter="url(#blur3)"/>
<ellipse cx="1237" cy="561" rx="7" ry="16" fill="#0250f2" filter="url(#blur3)"/>
<ellipse cx="1195" cy="391" rx="19" ry="7" fill="#0250f2" filter="url(#blur3)"/>
<ellipse cx="1060" cy="607" rx="15" ry="6" fill="#0250f2" filter="url(#blur3)"/>
<ellipse cx="1024" cy="430" rx="6" ry="16" fill="#0250f2" filter="url(#blur3)"/>
<ellipse cx="1140" cy="390" rx="10" ry="5" fill="#0250f2" filter="url(#blur3)"/>
<path d="M1041.6,419 C1043.2,418.3 1047.2,416.6 1049.6,418.1 C1052,419.6 1052.7,425.4 1055.8,427.9 C1058.9,430.4 1064.1,431.4 1068.2,433.2 C1072.3,435 1077.6,435.6 1080.6,438.5 C1083.5,441.4 1084.1,446.8 1085.9,450.9 C1087.7,455 1088.7,460.1 1091.2,463.3 C1093.7,466.6 1099.8,468 1101,470.4 C1102.2,472.8 1100.8,476 1098.3,477.5 C1095.8,479 1090,478.1 1085.9,479.3 C1081.8,480.5 1077.9,483.4 1073.5,484.6 C1069.1,485.8 1064.3,486.6 1059.3,486.3 C1054.3,486 1047.5,485.2 1043.4,482.8 C1039.3,480.4 1036.4,476 1034.5,472.2 C1032.6,468.4 1031.5,463.9 1031.8,459.8 C1032.1,455.7 1035,451.8 1036.3,447.4 C1037.6,443 1039.2,437.3 1039.8,433.2 C1040.4,429.1 1039.5,424.9 1039.8,422.5 C1040.1,420.1 1040,419.7 1041.6,419Z" fill="#10a8fc" stroke="#10a8fc" stroke-width="30" stroke-linejoin="round" filter="url(#blur7)" opacity="0.85"/>
<path d="M1146.3,420.8 C1147.5,417.6 1149.2,411.5 1151.6,408.4 C1153.9,405.3 1156.9,403.5 1160.4,402.2 C1164,400.9 1168.8,400.3 1172.9,400.4 C1177.1,400.5 1181.5,401.7 1185.3,403 C1189.1,404.3 1192.1,407.5 1195.9,408.4 C1199.7,409.3 1205.7,407.5 1208.3,408.4 C1210.9,409.3 1212.1,411.9 1211.8,413.7 C1211.5,415.5 1208.8,416.9 1206.5,419 C1204.2,421.1 1199.5,423.2 1197.7,426.1 C1195.9,429.1 1196.8,433.4 1195.9,436.7 C1195,439.9 1195.4,442.7 1192.4,445.6 C1189.5,448.6 1182.4,452.3 1178.2,454.4 C1174,456.5 1170.2,456.2 1167.5,458 C1164.8,459.8 1164.3,463.3 1162.2,465.1 C1160.1,466.9 1156.9,468.9 1155.1,468.6 C1153.3,468.3 1152.2,466.2 1151.6,463.3 C1151,460.4 1152.5,455 1151.6,450.9 C1150.7,446.8 1147.5,442.3 1146.3,438.5 C1145.1,434.7 1144.5,430.8 1144.5,427.9 C1144.5,424.9 1145.1,424.1 1146.3,420.8Z" fill="#10a8fc" stroke="#10a8fc" stroke-width="30" stroke-linejoin="round" filter="url(#blur7)" opacity="0.85"/>
<path d="M1163.5,521.4 C1166.2,520 1173.8,518.5 1178.5,517.1 C1183.2,515.7 1186.4,513.5 1191.4,512.8 C1196.4,512.1 1203.2,511.4 1208.5,512.8 C1213.8,514.2 1220.1,517.8 1223.5,521.4 C1226.9,525 1228.1,529.2 1228.8,534.2 C1229.5,539.2 1228.6,547.1 1227.7,551.4 C1226.8,555.7 1224.4,556.3 1223.5,559.9 C1222.6,563.5 1223.1,569.4 1222.4,572.8 C1221.7,576.2 1221,579.6 1219.2,580.3 C1217.4,581 1214.2,579.1 1211.7,577 C1209.2,574.9 1206.9,569.9 1204.2,567.4 C1201.5,564.9 1198.8,563.4 1195.6,562.1 C1192.4,560.9 1187.8,561.7 1184.9,559.9 C1182.1,558.1 1180.3,555 1178.5,551.4 C1176.7,547.8 1176.2,541.9 1174.2,538.5 C1172.2,535.1 1168.7,533.1 1166.7,531 C1164.8,528.9 1163,527.3 1162.5,525.7 C1162,524.1 1160.8,522.8 1163.5,521.4Z" fill="#10a8fc" stroke="#10a8fc" stroke-width="30" stroke-linejoin="round" filter="url(#blur7)" opacity="0.85"/>
<path d="M1068.5,550.9 C1070.7,547.8 1075.6,545.6 1079.6,543.5 C1083.6,541.4 1088.8,540.1 1092.5,538 C1096.2,535.9 1099,531.8 1101.8,530.6 C1104.6,529.4 1107.6,528.1 1109.1,530.6 C1110.6,533.1 1110.7,539.9 1111,545.4 C1111.3,550.9 1111,557.6 1111,563.8 C1111,569.9 1111.9,577.4 1111,582.3 C1110.1,587.2 1108.6,590.9 1105.5,593.4 C1102.4,595.9 1097.1,596.6 1092.5,597.1 C1087.9,597.6 1083,596.7 1077.8,596.1 C1072.6,595.5 1065.8,595.1 1061.2,593.4 C1056.6,591.7 1052.3,588.5 1050.1,586 C1047.9,583.5 1047,581.1 1048.2,578.6 C1049.4,576.1 1054.4,574 1057.5,571.2 C1060.6,568.4 1064.9,565.4 1066.7,562 C1068.5,558.6 1066.3,554 1068.5,550.9Z" fill="#10a8fc" stroke="#10a8fc" stroke-width="30" stroke-linejoin="round" filter="url(#blur7)" opacity="0.85"/>
<path d="M1152.8,498.9 C1152.8,501.8 1153,504.7 1152.2,507.5 C1151.4,510.3 1150.1,513.6 1148.1,515.6 C1146.1,517.6 1142.8,518.9 1140,519.7 C1137.2,520.5 1134.3,520.3 1131.4,520.3 C1128.5,520.3 1125.6,520.5 1122.8,519.7 C1120,518.9 1116.7,517.6 1114.7,515.6 C1112.7,513.6 1111.4,510.3 1110.6,507.5 C1109.8,504.7 1110,501.8 1110,498.9 C1110,496 1109.8,493.1 1110.6,490.3 C1111.4,487.5 1112.7,484.2 1114.7,482.2 C1116.7,480.2 1120,478.9 1122.8,478.1 C1125.6,477.3 1128.5,477.5 1131.4,477.5 C1134.3,477.5 1137.2,477.3 1140,478.1 C1142.8,478.9 1146.1,480.2 1148.1,482.2 C1150.1,484.2 1151.4,487.5 1152.2,490.3 C1153,493.1 1152.8,496 1152.8,498.9Z" fill="#10a8fc" stroke="#10a8fc" stroke-width="30" stroke-linejoin="round" filter="url(#blur7)" opacity="0.85"/>
<circle cx="1019.3" cy="387.2" r="33" fill="#10a8fc" filter="url(#blur7)" opacity="0.85"/>
<circle cx="1242.9" cy="387.2" r="33" fill="#10a8fc" filter="url(#blur7)" opacity="0.85"/>
<circle cx="1019.3" cy="610.1" r="33" fill="#10a8fc" filter="url(#blur7)" opacity="0.85"/>
<circle cx="1242.9" cy="610.1" r="33" fill="#10a8fc" filter="url(#blur7)" opacity="0.85"/>
<path d="M1041.6,419 C1043.2,418.3 1047.2,416.6 1049.6,418.1 C1052,419.6 1052.7,425.4 1055.8,427.9 C1058.9,430.4 1064.1,431.4 1068.2,433.2 C1072.3,435 1077.6,435.6 1080.6,438.5 C1083.5,441.4 1084.1,446.8 1085.9,450.9 C1087.7,455 1088.7,460.1 1091.2,463.3 C1093.7,466.6 1099.8,468 1101,470.4 C1102.2,472.8 1100.8,476 1098.3,477.5 C1095.8,479 1090,478.1 1085.9,479.3 C1081.8,480.5 1077.9,483.4 1073.5,484.6 C1069.1,485.8 1064.3,486.6 1059.3,486.3 C1054.3,486 1047.5,485.2 1043.4,482.8 C1039.3,480.4 1036.4,476 1034.5,472.2 C1032.6,468.4 1031.5,463.9 1031.8,459.8 C1032.1,455.7 1035,451.8 1036.3,447.4 C1037.6,443 1039.2,437.3 1039.8,433.2 C1040.4,429.1 1039.5,424.9 1039.8,422.5 C1040.1,420.1 1040,419.7 1041.6,419Z" fill="#28e6fc" stroke="#28e6fc" stroke-width="22" stroke-linejoin="round" filter="url(#blur3)"/>
<path d="M1146.3,420.8 C1147.5,417.6 1149.2,411.5 1151.6,408.4 C1153.9,405.3 1156.9,403.5 1160.4,402.2 C1164,400.9 1168.8,400.3 1172.9,400.4 C1177.1,400.5 1181.5,401.7 1185.3,403 C1189.1,404.3 1192.1,407.5 1195.9,408.4 C1199.7,409.3 1205.7,407.5 1208.3,408.4 C1210.9,409.3 1212.1,411.9 1211.8,413.7 C1211.5,415.5 1208.8,416.9 1206.5,419 C1204.2,421.1 1199.5,423.2 1197.7,426.1 C1195.9,429.1 1196.8,433.4 1195.9,436.7 C1195,439.9 1195.4,442.7 1192.4,445.6 C1189.5,448.6 1182.4,452.3 1178.2,454.4 C1174,456.5 1170.2,456.2 1167.5,458 C1164.8,459.8 1164.3,463.3 1162.2,465.1 C1160.1,466.9 1156.9,468.9 1155.1,468.6 C1153.3,468.3 1152.2,466.2 1151.6,463.3 C1151,460.4 1152.5,455 1151.6,450.9 C1150.7,446.8 1147.5,442.3 1146.3,438.5 C1145.1,434.7 1144.5,430.8 1144.5,427.9 C1144.5,424.9 1145.1,424.1 1146.3,420.8Z" fill="#28e6fc" stroke="#28e6fc" stroke-width="22" stroke-linejoin="round" filter="url(#blur3)"/>
<path d="M1163.5,521.4 C1166.2,520 1173.8,518.5 1178.5,517.1 C1183.2,515.7 1186.4,513.5 1191.4,512.8 C1196.4,512.1 1203.2,511.4 1208.5,512.8 C1213.8,514.2 1220.1,517.8 1223.5,521.4 C1226.9,525 1228.1,529.2 1228.8,534.2 C1229.5,539.2 1228.6,547.1 1227.7,551.4 C1226.8,555.7 1224.4,556.3 1223.5,559.9 C1222.6,563.5 1223.1,569.4 1222.4,572.8 C1221.7,576.2 1221,579.6 1219.2,580.3 C1217.4,581 1214.2,579.1 1211.7,577 C1209.2,574.9 1206.9,569.9 1204.2,567.4 C1201.5,564.9 1198.8,563.4 1195.6,562.1 C1192.4,560.9 1187.8,561.7 1184.9,559.9 C1182.1,558.1 1180.3,555 1178.5,551.4 C1176.7,547.8 1176.2,541.9 1174.2,538.5 C1172.2,535.1 1168.7,533.1 1166.7,531 C1164.8,528.9 1163,527.3 1162.5,525.7 C1162,524.1 1160.8,522.8 1163.5,521.4Z" fill="#28e6fc" stroke="#28e6fc" stroke-width="22" stroke-linejoin="round" filter="url(#blur3)"/>
<path d="M1068.5,550.9 C1070.7,547.8 1075.6,545.6 1079.6,543.5 C1083.6,541.4 1088.8,540.1 1092.5,538 C1096.2,535.9 1099,531.8 1101.8,530.6 C1104.6,529.4 1107.6,528.1 1109.1,530.6 C1110.6,533.1 1110.7,539.9 1111,545.4 C1111.3,550.9 1111,557.6 1111,563.8 C1111,569.9 1111.9,577.4 1111,582.3 C1110.1,587.2 1108.6,590.9 1105.5,593.4 C1102.4,595.9 1097.1,596.6 1092.5,597.1 C1087.9,597.6 1083,596.7 1077.8,596.1 C1072.6,595.5 1065.8,595.1 1061.2,593.4 C1056.6,591.7 1052.3,588.5 1050.1,586 C1047.9,583.5 1047,581.1 1048.2,578.6 C1049.4,576.1 1054.4,574 1057.5,571.2 C1060.6,568.4 1064.9,565.4 1066.7,562 C1068.5,558.6 1066.3,554 1068.5,550.9Z" fill="#28e6fc" stroke="#28e6fc" stroke-width="22" stroke-linejoin="round" filter="url(#blur3)"/>
<path d="M1152.8,498.9 C1152.8,501.8 1153,504.7 1152.2,507.5 C1151.4,510.3 1150.1,513.6 1148.1,515.6 C1146.1,517.6 1142.8,518.9 1140,519.7 C1137.2,520.5 1134.3,520.3 1131.4,520.3 C1128.5,520.3 1125.6,520.5 1122.8,519.7 C1120,518.9 1116.7,517.6 1114.7,515.6 C1112.7,513.6 1111.4,510.3 1110.6,507.5 C1109.8,504.7 1110,501.8 1110,498.9 C1110,496 1109.8,493.1 1110.6,490.3 C1111.4,487.5 1112.7,484.2 1114.7,482.2 C1116.7,480.2 1120,478.9 1122.8,478.1 C1125.6,477.3 1128.5,477.5 1131.4,477.5 C1134.3,477.5 1137.2,477.3 1140,478.1 C1142.8,478.9 1146.1,480.2 1148.1,482.2 C1150.1,484.2 1151.4,487.5 1152.2,490.3 C1153,493.1 1152.8,496 1152.8,498.9Z" fill="#28e6fc" stroke="#28e6fc" stroke-width="22" stroke-linejoin="round" filter="url(#blur3)"/>
<circle cx="1019.3" cy="387.2" r="30" fill="#28e6fc" filter="url(#blur3)"/>
<circle cx="1242.9" cy="387.2" r="30" fill="#28e6fc" filter="url(#blur3)"/>
<circle cx="1019.3" cy="610.1" r="30" fill="#28e6fc" filter="url(#blur3)"/>
<circle cx="1242.9" cy="610.1" r="30" fill="#28e6fc" filter="url(#blur3)"/>
<path d="M1041.6,419 C1043.2,418.3 1047.2,416.6 1049.6,418.1 C1052,419.6 1052.7,425.4 1055.8,427.9 C1058.9,430.4 1064.1,431.4 1068.2,433.2 C1072.3,435 1077.6,435.6 1080.6,438.5 C1083.5,441.4 1084.1,446.8 1085.9,450.9 C1087.7,455 1088.7,460.1 1091.2,463.3 C1093.7,466.6 1099.8,468 1101,470.4 C1102.2,472.8 1100.8,476 1098.3,477.5 C1095.8,479 1090,478.1 1085.9,479.3 C1081.8,480.5 1077.9,483.4 1073.5,484.6 C1069.1,485.8 1064.3,486.6 1059.3,486.3 C1054.3,486 1047.5,485.2 1043.4,482.8 C1039.3,480.4 1036.4,476 1034.5,472.2 C1032.6,468.4 1031.5,463.9 1031.8,459.8 C1032.1,455.7 1035,451.8 1036.3,447.4 C1037.6,443 1039.2,437.3 1039.8,433.2 C1040.4,429.1 1039.5,424.9 1039.8,422.5 C1040.1,420.1 1040,419.7 1041.6,419Z" fill="#2ade3e" stroke="#1a7a30" stroke-width="0.9"/>
<path d="M1146.3,420.8 C1147.5,417.6 1149.2,411.5 1151.6,408.4 C1153.9,405.3 1156.9,403.5 1160.4,402.2 C1164,400.9 1168.8,400.3 1172.9,400.4 C1177.1,400.5 1181.5,401.7 1185.3,403 C1189.1,404.3 1192.1,407.5 1195.9,408.4 C1199.7,409.3 1205.7,407.5 1208.3,408.4 C1210.9,409.3 1212.1,411.9 1211.8,413.7 C1211.5,415.5 1208.8,416.9 1206.5,419 C1204.2,421.1 1199.5,423.2 1197.7,426.1 C1195.9,429.1 1196.8,433.4 1195.9,436.7 C1195,439.9 1195.4,442.7 1192.4,445.6 C1189.5,448.6 1182.4,452.3 1178.2,454.4 C1174,456.5 1170.2,456.2 1167.5,458 C1164.8,459.8 1164.3,463.3 1162.2,465.1 C1160.1,466.9 1156.9,468.9 1155.1,468.6 C1153.3,468.3 1152.2,466.2 1151.6,463.3 C1151,460.4 1152.5,455 1151.6,450.9 C1150.7,446.8 1147.5,442.3 1146.3,438.5 C1145.1,434.7 1144.5,430.8 1144.5,427.9 C1144.5,424.9 1145.1,424.1 1146.3,420.8Z" fill="#2ade3e" stroke="#1a7a30" stroke-width="0.9"/>
<path d="M1163.5,521.4 C1166.2,520 1173.8,518.5 1178.5,517.1 C1183.2,515.7 1186.4,513.5 1191.4,512.8 C1196.4,512.1 1203.2,511.4 1208.5,512.8 C1213.8,514.2 1220.1,517.8 1223.5,521.4 C1226.9,525 1228.1,529.2 1228.8,534.2 C1229.5,539.2 1228.6,547.1 1227.7,551.4 C1226.8,555.7 1224.4,556.3 1223.5,559.9 C1222.6,563.5 1223.1,569.4 1222.4,572.8 C1221.7,576.2 1221,579.6 1219.2,580.3 C1217.4,581 1214.2,579.1 1211.7,577 C1209.2,574.9 1206.9,569.9 1204.2,567.4 C1201.5,564.9 1198.8,563.4 1195.6,562.1 C1192.4,560.9 1187.8,561.7 1184.9,559.9 C1182.1,558.1 1180.3,555 1178.5,551.4 C1176.7,547.8 1176.2,541.9 1174.2,538.5 C1172.2,535.1 1168.7,533.1 1166.7,531 C1164.8,528.9 1163,527.3 1162.5,525.7 C1162,524.1 1160.8,522.8 1163.5,521.4Z" fill="#2ade3e" stroke="#1a7a30" stroke-width="0.9"/>
<path d="M1068.5,550.9 C1070.7,547.8 1075.6,545.6 1079.6,543.5 C1083.6,541.4 1088.8,540.1 1092.5,538 C1096.2,535.9 1099,531.8 1101.8,530.6 C1104.6,529.4 1107.6,528.1 1109.1,530.6 C1110.6,533.1 1110.7,539.9 1111,545.4 C1111.3,550.9 1111,557.6 1111,563.8 C1111,569.9 1111.9,577.4 1111,582.3 C1110.1,587.2 1108.6,590.9 1105.5,593.4 C1102.4,595.9 1097.1,596.6 1092.5,597.1 C1087.9,597.6 1083,596.7 1077.8,596.1 C1072.6,595.5 1065.8,595.1 1061.2,593.4 C1056.6,591.7 1052.3,588.5 1050.1,586 C1047.9,583.5 1047,581.1 1048.2,578.6 C1049.4,576.1 1054.4,574 1057.5,571.2 C1060.6,568.4 1064.9,565.4 1066.7,562 C1068.5,558.6 1066.3,554 1068.5,550.9Z" fill="#2ade3e" stroke="#1a7a30" stroke-width="0.9"/>
<path d="M1152.8,498.9 C1152.8,501.8 1153,504.7 1152.2,507.5 C1151.4,510.3 1150.1,513.6 1148.1,515.6 C1146.1,517.6 1142.8,518.9 1140,519.7 C1137.2,520.5 1134.3,520.3 1131.4,520.3 C1128.5,520.3 1125.6,520.5 1122.8,519.7 C1120,518.9 1116.7,517.6 1114.7,515.6 C1112.7,513.6 1111.4,510.3 1110.6,507.5 C1109.8,504.7 1110,501.8 1110,498.9 C1110,496 1109.8,493.1 1110.6,490.3 C1111.4,487.5 1112.7,484.2 1114.7,482.2 C1116.7,480.2 1120,478.9 1122.8,478.1 C1125.6,477.3 1128.5,477.5 1131.4,477.5 C1134.3,477.5 1137.2,477.3 1140,478.1 C1142.8,478.9 1146.1,480.2 1148.1,482.2 C1150.1,484.2 1151.4,487.5 1152.2,490.3 C1153,493.1 1152.8,496 1152.8,498.9Z" fill="#2ade3e" stroke="#1a7a30" stroke-width="0.9"/>
<circle cx="1019.3" cy="387.2" r="21" fill="#2ade3e" stroke="#1a7a30" stroke-width="0.9"/>
<circle cx="1242.9" cy="387.2" r="21" fill="#2ade3e" stroke="#1a7a30" stroke-width="0.9"/>
<circle cx="1019.3" cy="610.1" r="21" fill="#2ade3e" stroke="#1a7a30" stroke-width="0.9"/>
<circle cx="1242.9" cy="610.1" r="21" fill="#2ade3e" stroke="#1a7a30" stroke-width="0.9"/>
<circle cx="1059.3" cy="458" r="24.1" fill="#eef010" filter="url(#blur1)"/>
<circle cx="1059.3" cy="458" r="22.3" fill="#ff8000"/>
<circle cx="1059.3" cy="458" r="21.3" fill="#ee0000"/>
<circle cx="1059.3" cy="458" r="15.3" fill="none" stroke="#c00000" stroke-width="0.8" opacity="0.7"/>
<circle cx="1059.3" cy="458" r="9.6" fill="none" stroke="#c00000" stroke-width="0.8" opacity="0.7"/>
<circle cx="1059.3" cy="458" r="4.3" fill="none" stroke="#c00000" stroke-width="0.8" opacity="0.7"/>
<circle cx="1172" cy="427" r="24.1" fill="#eef010" filter="url(#blur1)"/>
<circle cx="1172" cy="427" r="22.3" fill="#ff8000"/>
<circle cx="1172" cy="427" r="21.3" fill="#ee0000"/>
<circle cx="1172" cy="427" r="15.3" fill="none" stroke="#c00000" stroke-width="0.8" opacity="0.7"/>
<circle cx="1172" cy="427" r="9.6" fill="none" stroke="#c00000" stroke-width="0.8" opacity="0.7"/>
<circle cx="1172" cy="427" r="4.3" fill="none" stroke="#c00000" stroke-width="0.8" opacity="0.7"/>
<circle cx="1202.1" cy="538.5" r="24.2" fill="#eef010" filter="url(#blur1)"/>
<circle cx="1202.1" cy="538.5" r="22.4" fill="#ff8000"/>
<circle cx="1202.1" cy="538.5" r="21.4" fill="#ee0000"/>
<circle cx="1202.1" cy="538.5" r="15.4" fill="none" stroke="#c00000" stroke-width="0.8" opacity="0.7"/>
<circle cx="1202.1" cy="538.5" r="9.6" fill="none" stroke="#c00000" stroke-width="0.8" opacity="0.7"/>
<circle cx="1202.1" cy="538.5" r="4.3" fill="none" stroke="#c00000" stroke-width="0.8" opacity="0.7"/>
<circle cx="1090" cy="570" r="22.3" fill="#eef010" filter="url(#blur1)"/>
<circle cx="1090" cy="570" r="20.5" fill="#ff8000"/>
<circle cx="1090" cy="570" r="19.5" fill="#ee0000"/>
<circle cx="1090" cy="570" r="14" fill="none" stroke="#c00000" stroke-width="0.8" opacity="0.7"/>
<circle cx="1090" cy="570" r="8.8" fill="none" stroke="#c00000" stroke-width="0.8" opacity="0.7"/>
<circle cx="1090" cy="570" r="3.9" fill="none" stroke="#c00000" stroke-width="0.8" opacity="0.7"/>
<circle cx="1131.4" cy="498.9" r="18.6" fill="#eef010" filter="url(#blur1)"/>
<circle cx="1131.4" cy="498.9" r="16.8" fill="#ff8000"/>
<circle cx="1131.4" cy="498.9" r="15.8" fill="#ee0000"/>
<circle cx="1131.4" cy="498.9" r="11.4" fill="none" stroke="#c00000" stroke-width="0.8" opacity="0.7"/>
<circle cx="1131.4" cy="498.9" r="7.1" fill="none" stroke="#c00000" stroke-width="0.8" opacity="0.7"/>
<circle cx="1131.4" cy="498.9" r="3.2" fill="none" stroke="#c00000" stroke-width="0.8" opacity="0.7"/>
<circle cx="1019.3" cy="387.2" r="17.5" fill="#eef010" filter="url(#blur1)"/>
<circle cx="1019.3" cy="387.2" r="16" fill="#ff8000"/>
<circle cx="1019.3" cy="387.2" r="15" fill="#ee0000"/>
<circle cx="1242.9" cy="387.2" r="17.5" fill="#eef010" filter="url(#blur1)"/>
<circle cx="1242.9" cy="387.2" r="16" fill="#ff8000"/>
<circle cx="1242.9" cy="387.2" r="15" fill="#ee0000"/>
<circle cx="1019.3" cy="610.1" r="17.5" fill="#eef010" filter="url(#blur1)"/>
<circle cx="1019.3" cy="610.1" r="16" fill="#ff8000"/>
<circle cx="1019.3" cy="610.1" r="15" fill="#ee0000"/>
<circle cx="1242.9" cy="610.1" r="17.5" fill="#eef010" filter="url(#blur1)"/>
<circle cx="1242.9" cy="610.1" r="16" fill="#ff8000"/>
<circle cx="1242.9" cy="610.1" r="15" fill="#ee0000"/>
</g>
<text x="1039.5" y="580.5" font-size="30" class="dv" style="fill:#fff;stroke:#d0d8e0;stroke-width:0.5">(La/Sr)</text>
<rect x="1246.6" y="384.4" width="9" height="230.4" fill="url(#gCB)"/>
<line x1="1252.6" y1="399.8" x2="1255.6" y2="399.8" stroke="#777" stroke-width="0.6" opacity="0.7"/>
<line x1="1252.6" y1="415.1" x2="1255.6" y2="415.1" stroke="#777" stroke-width="0.6" opacity="0.7"/>
<line x1="1252.6" y1="430.5" x2="1255.6" y2="430.5" stroke="#777" stroke-width="0.6" opacity="0.7"/>
<line x1="1252.6" y1="445.8" x2="1255.6" y2="445.8" stroke="#777" stroke-width="0.6" opacity="0.7"/>
<line x1="1252.6" y1="461.2" x2="1255.6" y2="461.2" stroke="#777" stroke-width="0.6" opacity="0.7"/>
<line x1="1252.6" y1="476.6" x2="1255.6" y2="476.6" stroke="#777" stroke-width="0.6" opacity="0.7"/>
<line x1="1252.6" y1="491.9" x2="1255.6" y2="491.9" stroke="#777" stroke-width="0.6" opacity="0.7"/>
<line x1="1252.6" y1="507.3" x2="1255.6" y2="507.3" stroke="#777" stroke-width="0.6" opacity="0.7"/>
<line x1="1252.6" y1="522.6" x2="1255.6" y2="522.6" stroke="#777" stroke-width="0.6" opacity="0.7"/>
<line x1="1252.6" y1="538" x2="1255.6" y2="538" stroke="#777" stroke-width="0.6" opacity="0.7"/>
<line x1="1252.6" y1="553.4" x2="1255.6" y2="553.4" stroke="#777" stroke-width="0.6" opacity="0.7"/>
<line x1="1252.6" y1="568.7" x2="1255.6" y2="568.7" stroke="#777" stroke-width="0.6" opacity="0.7"/>
<line x1="1252.6" y1="584.1" x2="1255.6" y2="584.1" stroke="#777" stroke-width="0.6" opacity="0.7"/>
<line x1="1252.6" y1="599.4" x2="1255.6" y2="599.4" stroke="#777" stroke-width="0.6" opacity="0.7"/>
<text x="1257.5" y="397" font-size="29" class="dv">3</text>
<text x="1257.5" y="622" font-size="29" class="dv">0</text>
<text x="970.4" y="410.7" font-size="37">(h)</text>
</g>
</svg>
</body></html>
